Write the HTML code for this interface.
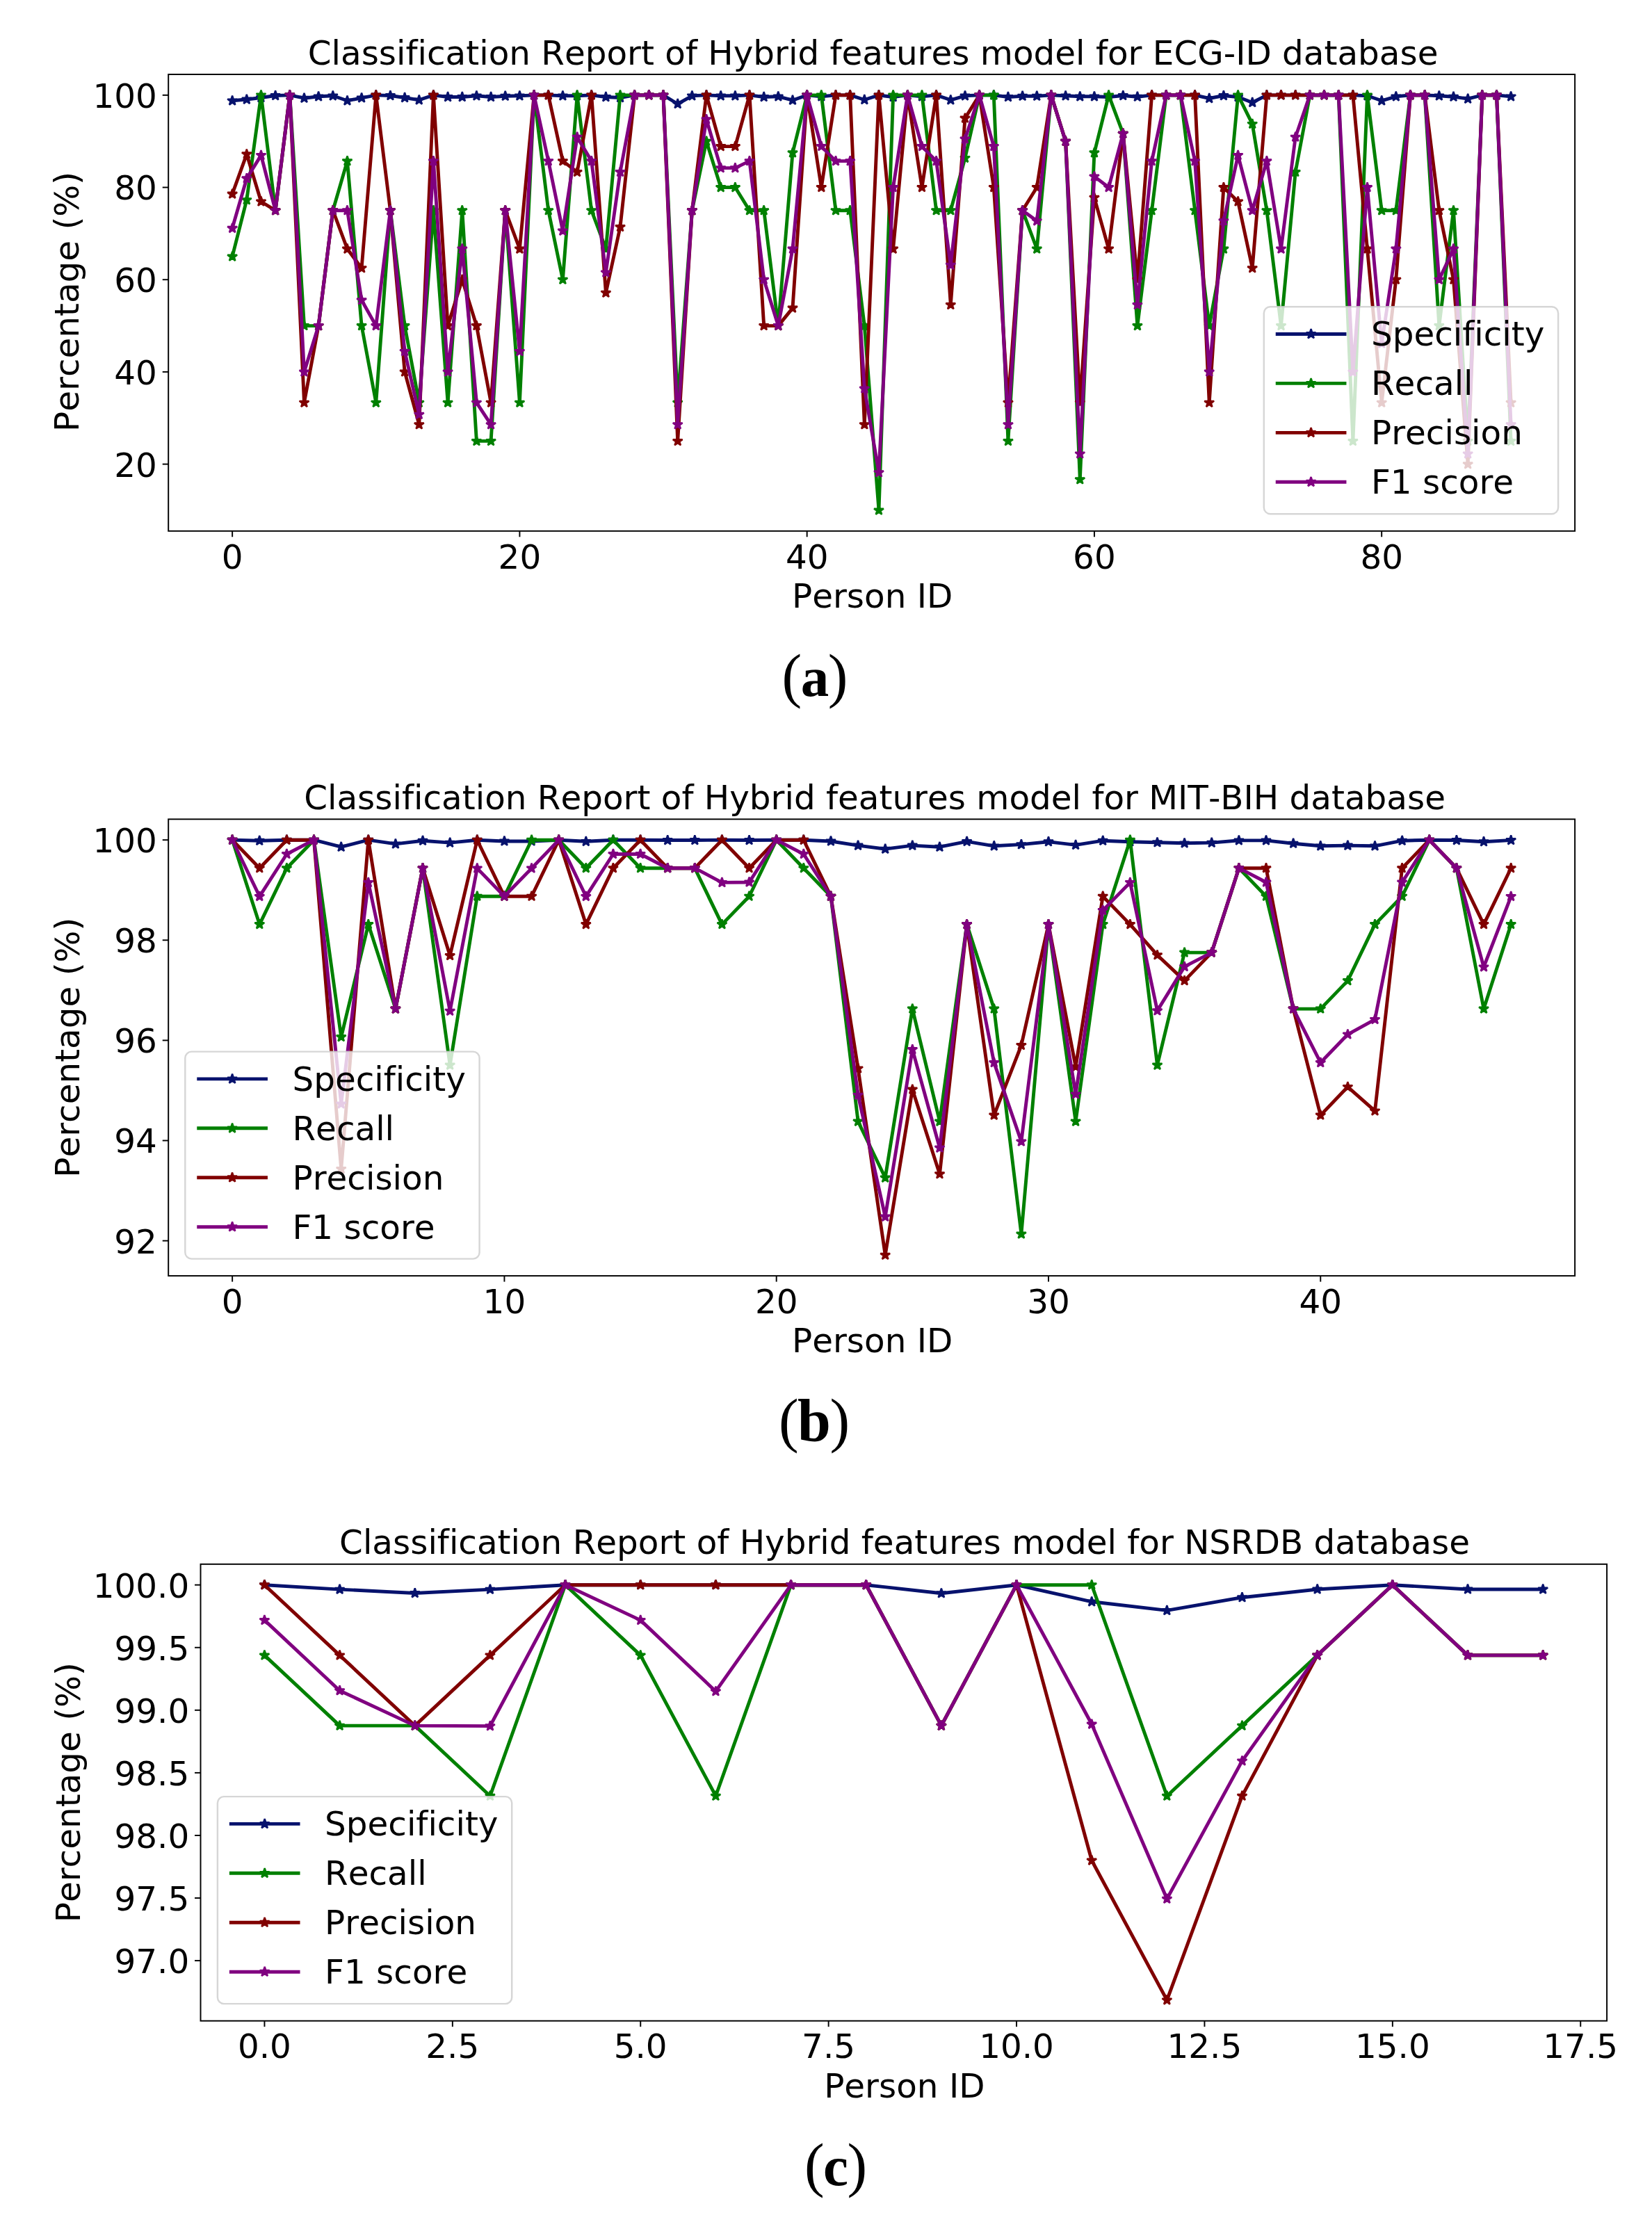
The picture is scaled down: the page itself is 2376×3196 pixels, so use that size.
<!DOCTYPE html>
<html><head><meta charset="utf-8"><title>Classification Report</title>
<style>html,body{margin:0;padding:0;background:#fff}svg{display:block}text{font-variant-ligatures:none;font-feature-settings:"liga" 0,"clig" 0;font-kerning:none}</style></head>
<body>
<svg width="2376" height="3196" viewBox="0 0 2376 3196" font-family='"DejaVu Sans","Liberation Sans",sans-serif' font-size="48.4" fill="#000">
<rect width="2376" height="3196" fill="#fff"/>
<g id="chart-a">
<polyline points="334.1,144.8 354.8,143.0 375.5,140.5 396.1,137.5 416.8,136.9 437.5,141.2 458.1,138.8 478.8,137.8 499.5,144.8 520.1,140.8 540.8,136.9 561.4,137.5 582.1,140.5 602.8,143.8 623.4,136.9 644.1,139.5 664.8,139.5 685.4,137.8 706.1,139.5 726.7,138.2 747.4,137.8 768.1,136.9 788.7,136.9 809.4,137.8 830.1,137.8 850.7,136.9 871.4,139.5 892.0,140.5 912.7,136.9 933.4,136.9 954.0,136.9 974.7,149.5 995.4,137.8 1016.0,136.9 1036.7,137.8 1057.4,137.8 1078.0,136.9 1098.7,139.5 1119.3,138.8 1140.0,144.2 1160.7,136.9 1181.3,138.8 1202.0,136.9 1222.7,136.9 1243.3,143.5 1264.0,136.9 1284.6,139.5 1305.3,136.9 1326.0,138.8 1346.6,136.9 1367.3,143.8 1388.0,137.8 1408.6,136.9 1429.3,136.9 1449.9,139.5 1470.6,138.2 1491.3,138.2 1511.9,136.9 1532.6,137.8 1553.3,138.8 1573.9,138.8 1594.6,139.5 1615.3,137.5 1635.9,139.2 1656.6,136.9 1677.2,136.9 1697.9,136.9 1718.6,136.9 1739.2,141.5 1759.9,137.5 1780.6,139.5 1801.2,147.5 1821.9,136.9 1842.5,136.9 1863.2,136.9 1883.9,136.9 1904.5,136.9 1925.2,136.9 1945.9,136.9 1966.5,137.8 1987.2,144.8 2007.8,138.8 2028.5,136.9 2049.2,136.9 2069.8,137.8 2090.5,139.2 2111.2,142.2 2131.8,136.9 2152.5,136.9 2173.1,138.8" fill="none" stroke="#07126d" stroke-width="4.90" stroke-linejoin="round" stroke-linecap="square"/>
<path d="M334.1 137.6 L332.5 142.6 L327.2 142.6 L331.5 145.7 L329.9 150.7 L334.1 147.6 L338.4 150.7 L336.8 145.7 L341.1 142.6 L335.8 142.6ZM354.8 135.8 L353.2 140.8 L347.9 140.8 L352.2 143.9 L350.5 148.9 L354.8 145.8 L359.1 148.9 L357.5 143.9 L361.7 140.8 L356.4 140.8ZM375.5 133.2 L373.8 138.3 L368.6 138.3 L372.8 141.4 L371.2 146.4 L375.5 143.3 L379.7 146.4 L378.1 141.4 L382.4 138.3 L377.1 138.3ZM396.1 130.3 L394.5 135.3 L389.2 135.3 L393.5 138.4 L391.9 143.4 L396.1 140.3 L400.4 143.4 L398.8 138.4 L403.0 135.3 L397.8 135.3ZM416.8 129.6 L415.2 134.6 L409.9 134.6 L414.2 137.7 L412.5 142.7 L416.8 139.6 L421.1 142.7 L419.4 137.7 L423.7 134.6 L418.4 134.6ZM437.5 133.9 L435.8 138.9 L430.6 138.9 L434.8 142.0 L433.2 147.0 L437.5 143.9 L441.7 147.0 L440.1 142.0 L444.4 138.9 L439.1 138.9ZM458.1 131.6 L456.5 136.6 L451.2 136.6 L455.5 139.7 L453.9 144.7 L458.1 141.6 L462.4 144.7 L460.8 139.7 L465.0 136.6 L459.8 136.6ZM478.8 130.6 L477.2 135.6 L471.9 135.6 L476.2 138.7 L474.5 143.7 L478.8 140.6 L483.1 143.7 L481.4 138.7 L485.7 135.6 L480.4 135.6ZM499.5 137.6 L497.8 142.6 L492.5 142.6 L496.8 145.7 L495.2 150.7 L499.5 147.6 L503.7 150.7 L502.1 145.7 L506.4 142.6 L501.1 142.6ZM520.1 133.6 L518.5 138.6 L513.2 138.6 L517.5 141.7 L515.8 146.7 L520.1 143.6 L524.4 146.7 L522.8 141.7 L527.0 138.6 L521.7 138.6ZM540.8 129.6 L539.1 134.6 L533.9 134.6 L538.1 137.7 L536.5 142.7 L540.8 139.6 L545.0 142.7 L543.4 137.7 L547.7 134.6 L542.4 134.6ZM561.4 130.3 L559.8 135.3 L554.5 135.3 L558.8 138.4 L557.2 143.4 L561.4 140.3 L565.7 143.4 L564.1 138.4 L568.3 135.3 L563.1 135.3ZM582.1 133.2 L580.5 138.3 L575.2 138.3 L579.5 141.4 L577.8 146.4 L582.1 143.3 L586.4 146.4 L584.7 141.4 L589.0 138.3 L583.7 138.3ZM602.8 136.6 L601.1 141.6 L595.9 141.6 L600.1 144.7 L598.5 149.7 L602.8 146.6 L607.0 149.7 L605.4 144.7 L609.7 141.6 L604.4 141.6ZM623.4 129.6 L621.8 134.6 L616.5 134.6 L620.8 137.7 L619.2 142.7 L623.4 139.6 L627.7 142.7 L626.1 137.7 L630.3 134.6 L625.1 134.6ZM644.1 132.2 L642.5 137.3 L637.2 137.3 L641.5 140.4 L639.8 145.4 L644.1 142.3 L648.4 145.4 L646.7 140.4 L651.0 137.3 L645.7 137.3ZM664.8 132.2 L663.1 137.3 L657.9 137.3 L662.1 140.4 L660.5 145.4 L664.8 142.3 L669.0 145.4 L667.4 140.4 L671.7 137.3 L666.4 137.3ZM685.4 130.6 L683.8 135.6 L678.5 135.6 L682.8 138.7 L681.2 143.7 L685.4 140.6 L689.7 143.7 L688.1 138.7 L692.3 135.6 L687.0 135.6ZM706.1 132.2 L704.5 137.3 L699.2 137.3 L703.4 140.4 L701.8 145.4 L706.1 142.3 L710.3 145.4 L708.7 140.4 L713.0 137.3 L707.7 137.3ZM726.7 130.9 L725.1 135.9 L719.8 135.9 L724.1 139.0 L722.5 144.1 L726.7 141.0 L731.0 144.1 L729.4 139.0 L733.7 135.9 L728.4 135.9ZM747.4 130.6 L745.8 135.6 L740.5 135.6 L744.8 138.7 L743.1 143.7 L747.4 140.6 L751.7 143.7 L750.0 138.7 L754.3 135.6 L749.0 135.6ZM768.1 129.6 L766.4 134.6 L761.2 134.6 L765.4 137.7 L763.8 142.7 L768.1 139.6 L772.3 142.7 L770.7 137.7 L775.0 134.6 L769.7 134.6ZM788.7 129.6 L787.1 134.6 L781.8 134.6 L786.1 137.7 L784.5 142.7 L788.7 139.6 L793.0 142.7 L791.4 137.7 L795.6 134.6 L790.4 134.6ZM809.4 130.6 L807.8 135.6 L802.5 135.6 L806.8 138.7 L805.1 143.7 L809.4 140.6 L813.7 143.7 L812.0 138.7 L816.3 135.6 L811.0 135.6ZM830.1 130.6 L828.4 135.6 L823.2 135.6 L827.4 138.7 L825.8 143.7 L830.1 140.6 L834.3 143.7 L832.7 138.7 L837.0 135.6 L831.7 135.6ZM850.7 129.6 L849.1 134.6 L843.8 134.6 L848.1 137.7 L846.5 142.7 L850.7 139.6 L855.0 142.7 L853.4 137.7 L857.6 134.6 L852.4 134.6ZM871.4 132.2 L869.8 137.3 L864.5 137.3 L868.7 140.4 L867.1 145.4 L871.4 142.3 L875.7 145.4 L874.0 140.4 L878.3 137.3 L873.0 137.3ZM892.0 133.2 L890.4 138.3 L885.1 138.3 L889.4 141.4 L887.8 146.4 L892.0 143.3 L896.3 146.4 L894.7 141.4 L899.0 138.3 L893.7 138.3ZM912.7 129.6 L911.1 134.6 L905.8 134.6 L910.1 137.7 L908.4 142.7 L912.7 139.6 L917.0 142.7 L915.3 137.7 L919.6 134.6 L914.3 134.6ZM933.4 129.6 L931.7 134.6 L926.5 134.6 L930.7 137.7 L929.1 142.7 L933.4 139.6 L937.6 142.7 L936.0 137.7 L940.3 134.6 L935.0 134.6ZM954.0 129.6 L952.4 134.6 L947.1 134.6 L951.4 137.7 L949.8 142.7 L954.0 139.6 L958.3 142.7 L956.7 137.7 L960.9 134.6 L955.7 134.6ZM974.7 142.2 L973.1 147.2 L967.8 147.2 L972.1 150.3 L970.4 155.3 L974.7 152.2 L979.0 155.3 L977.3 150.3 L981.6 147.2 L976.3 147.2ZM995.4 130.6 L993.7 135.6 L988.5 135.6 L992.7 138.7 L991.1 143.7 L995.4 140.6 L999.6 143.7 L998.0 138.7 L1002.3 135.6 L997.0 135.6ZM1016.0 129.6 L1014.4 134.6 L1009.1 134.6 L1013.4 137.7 L1011.8 142.7 L1016.0 139.6 L1020.3 142.7 L1018.7 137.7 L1022.9 134.6 L1017.7 134.6ZM1036.7 130.6 L1035.1 135.6 L1029.8 135.6 L1034.1 138.7 L1032.4 143.7 L1036.7 140.6 L1041.0 143.7 L1039.3 138.7 L1043.6 135.6 L1038.3 135.6ZM1057.4 130.6 L1055.7 135.6 L1050.4 135.6 L1054.7 138.7 L1053.1 143.7 L1057.4 140.6 L1061.6 143.7 L1060.0 138.7 L1064.3 135.6 L1059.0 135.6ZM1078.0 129.6 L1076.4 134.6 L1071.1 134.6 L1075.4 137.7 L1073.7 142.7 L1078.0 139.6 L1082.3 142.7 L1080.7 137.7 L1084.9 134.6 L1079.6 134.6ZM1098.7 132.2 L1097.0 137.3 L1091.8 137.3 L1096.0 140.4 L1094.4 145.4 L1098.7 142.3 L1102.9 145.4 L1101.3 140.4 L1105.6 137.3 L1100.3 137.3ZM1119.3 131.6 L1117.7 136.6 L1112.4 136.6 L1116.7 139.7 L1115.1 144.7 L1119.3 141.6 L1123.6 144.7 L1122.0 139.7 L1126.2 136.6 L1121.0 136.6ZM1140.0 136.9 L1138.4 141.9 L1133.1 141.9 L1137.4 145.0 L1135.7 150.0 L1140.0 146.9 L1144.3 150.0 L1142.6 145.0 L1146.9 141.9 L1141.6 141.9ZM1160.7 129.6 L1159.0 134.6 L1153.8 134.6 L1158.0 137.7 L1156.4 142.7 L1160.7 139.6 L1164.9 142.7 L1163.3 137.7 L1167.6 134.6 L1162.3 134.6ZM1181.3 131.6 L1179.7 136.6 L1174.4 136.6 L1178.7 139.7 L1177.1 144.7 L1181.3 141.6 L1185.6 144.7 L1184.0 139.7 L1188.2 136.6 L1183.0 136.6ZM1202.0 129.6 L1200.4 134.6 L1195.1 134.6 L1199.4 137.7 L1197.7 142.7 L1202.0 139.6 L1206.3 142.7 L1204.6 137.7 L1208.9 134.6 L1203.6 134.6ZM1222.7 129.6 L1221.0 134.6 L1215.8 134.6 L1220.0 137.7 L1218.4 142.7 L1222.7 139.6 L1226.9 142.7 L1225.3 137.7 L1229.6 134.6 L1224.3 134.6ZM1243.3 136.2 L1241.7 141.2 L1236.4 141.2 L1240.7 144.3 L1239.1 149.4 L1243.3 146.3 L1247.6 149.4 L1246.0 144.3 L1250.2 141.2 L1244.9 141.2ZM1264.0 129.6 L1262.4 134.6 L1257.1 134.6 L1261.3 137.7 L1259.7 142.7 L1264.0 139.6 L1268.2 142.7 L1266.6 137.7 L1270.9 134.6 L1265.6 134.6ZM1284.6 132.2 L1283.0 137.3 L1277.7 137.3 L1282.0 140.4 L1280.4 145.4 L1284.6 142.3 L1288.9 145.4 L1287.3 140.4 L1291.5 137.3 L1286.3 137.3ZM1305.3 129.6 L1303.7 134.6 L1298.4 134.6 L1302.7 137.7 L1301.0 142.7 L1305.3 139.6 L1309.6 142.7 L1307.9 137.7 L1312.2 134.6 L1306.9 134.6ZM1326.0 131.6 L1324.3 136.6 L1319.1 136.6 L1323.3 139.7 L1321.7 144.7 L1326.0 141.6 L1330.2 144.7 L1328.6 139.7 L1332.9 136.6 L1327.6 136.6ZM1346.6 129.6 L1345.0 134.6 L1339.7 134.6 L1344.0 137.7 L1342.4 142.7 L1346.6 139.6 L1350.9 142.7 L1349.3 137.7 L1353.5 134.6 L1348.3 134.6ZM1367.3 136.6 L1365.7 141.6 L1360.4 141.6 L1364.7 144.7 L1363.0 149.7 L1367.3 146.6 L1371.6 149.7 L1369.9 144.7 L1374.2 141.6 L1368.9 141.6ZM1388.0 130.6 L1386.3 135.6 L1381.1 135.6 L1385.3 138.7 L1383.7 143.7 L1388.0 140.6 L1392.2 143.7 L1390.6 138.7 L1394.9 135.6 L1389.6 135.6ZM1408.6 129.6 L1407.0 134.6 L1401.7 134.6 L1406.0 137.7 L1404.4 142.7 L1408.6 139.6 L1412.9 142.7 L1411.3 137.7 L1415.5 134.6 L1410.3 134.6ZM1429.3 129.6 L1427.7 134.6 L1422.4 134.6 L1426.6 137.7 L1425.0 142.7 L1429.3 139.6 L1433.6 142.7 L1431.9 137.7 L1436.2 134.6 L1430.9 134.6ZM1449.9 132.2 L1448.3 137.3 L1443.0 137.3 L1447.3 140.4 L1445.7 145.4 L1449.9 142.3 L1454.2 145.4 L1452.6 140.4 L1456.9 137.3 L1451.6 137.3ZM1470.6 130.9 L1469.0 135.9 L1463.7 135.9 L1468.0 139.0 L1466.3 144.1 L1470.6 141.0 L1474.9 144.1 L1473.2 139.0 L1477.5 135.9 L1472.2 135.9ZM1491.3 130.9 L1489.6 135.9 L1484.4 135.9 L1488.6 139.0 L1487.0 144.1 L1491.3 141.0 L1495.5 144.1 L1493.9 139.0 L1498.2 135.9 L1492.9 135.9ZM1511.9 129.6 L1510.3 134.6 L1505.0 134.6 L1509.3 137.7 L1507.7 142.7 L1511.9 139.6 L1516.2 142.7 L1514.6 137.7 L1518.8 134.6 L1513.6 134.6ZM1532.6 130.6 L1531.0 135.6 L1525.7 135.6 L1530.0 138.7 L1528.3 143.7 L1532.6 140.6 L1536.9 143.7 L1535.2 138.7 L1539.5 135.6 L1534.2 135.6ZM1553.3 131.6 L1551.6 136.6 L1546.4 136.6 L1550.6 139.7 L1549.0 144.7 L1553.3 141.6 L1557.5 144.7 L1555.9 139.7 L1560.2 136.6 L1554.9 136.6ZM1573.9 131.6 L1572.3 136.6 L1567.0 136.6 L1571.3 139.7 L1569.7 144.7 L1573.9 141.6 L1578.2 144.7 L1576.6 139.7 L1580.8 136.6 L1575.6 136.6ZM1594.6 132.2 L1593.0 137.3 L1587.7 137.3 L1592.0 140.4 L1590.3 145.4 L1594.6 142.3 L1598.9 145.4 L1597.2 140.4 L1601.5 137.3 L1596.2 137.3ZM1615.3 130.3 L1613.6 135.3 L1608.3 135.3 L1612.6 138.4 L1611.0 143.4 L1615.3 140.3 L1619.5 143.4 L1617.9 138.4 L1622.2 135.3 L1616.9 135.3ZM1635.9 131.9 L1634.3 136.9 L1629.0 136.9 L1633.3 140.0 L1631.6 145.1 L1635.9 141.9 L1640.2 145.1 L1638.6 140.0 L1642.8 136.9 L1637.5 136.9ZM1656.6 129.6 L1654.9 134.6 L1649.7 134.6 L1653.9 137.7 L1652.3 142.7 L1656.6 139.6 L1660.8 142.7 L1659.2 137.7 L1663.5 134.6 L1658.2 134.6ZM1677.2 129.6 L1675.6 134.6 L1670.3 134.6 L1674.6 137.7 L1673.0 142.7 L1677.2 139.6 L1681.5 142.7 L1679.9 137.7 L1684.1 134.6 L1678.9 134.6ZM1697.9 129.6 L1696.3 134.6 L1691.0 134.6 L1695.3 137.7 L1693.6 142.7 L1697.9 139.6 L1702.2 142.7 L1700.5 137.7 L1704.8 134.6 L1699.5 134.6ZM1718.6 129.6 L1716.9 134.6 L1711.7 134.6 L1715.9 137.7 L1714.3 142.7 L1718.6 139.6 L1722.8 142.7 L1721.2 137.7 L1725.5 134.6 L1720.2 134.6ZM1739.2 134.2 L1737.6 139.3 L1732.3 139.3 L1736.6 142.4 L1735.0 147.4 L1739.2 144.3 L1743.5 147.4 L1741.9 142.4 L1746.1 139.3 L1740.9 139.3ZM1759.9 130.3 L1758.3 135.3 L1753.0 135.3 L1757.3 138.4 L1755.6 143.4 L1759.9 140.3 L1764.2 143.4 L1762.5 138.4 L1766.8 135.3 L1761.5 135.3ZM1780.6 132.2 L1778.9 137.3 L1773.6 137.3 L1777.9 140.4 L1776.3 145.4 L1780.6 142.3 L1784.8 145.4 L1783.2 140.4 L1787.5 137.3 L1782.2 137.3ZM1801.2 140.2 L1799.6 145.2 L1794.3 145.2 L1798.6 148.3 L1797.0 153.3 L1801.2 150.2 L1805.5 153.3 L1803.9 148.3 L1808.1 145.2 L1802.8 145.2ZM1821.9 129.6 L1820.3 134.6 L1815.0 134.6 L1819.2 137.7 L1817.6 142.7 L1821.9 139.6 L1826.1 142.7 L1824.5 137.7 L1828.8 134.6 L1823.5 134.6ZM1842.5 129.6 L1840.9 134.6 L1835.6 134.6 L1839.9 137.7 L1838.3 142.7 L1842.5 139.6 L1846.8 142.7 L1845.2 137.7 L1849.4 134.6 L1844.2 134.6ZM1863.2 129.6 L1861.6 134.6 L1856.3 134.6 L1860.6 137.7 L1858.9 142.7 L1863.2 139.6 L1867.5 142.7 L1865.8 137.7 L1870.1 134.6 L1864.8 134.6ZM1883.9 129.6 L1882.2 134.6 L1877.0 134.6 L1881.2 137.7 L1879.6 142.7 L1883.9 139.6 L1888.1 142.7 L1886.5 137.7 L1890.8 134.6 L1885.5 134.6ZM1904.5 129.6 L1902.9 134.6 L1897.6 134.6 L1901.9 137.7 L1900.3 142.7 L1904.5 139.6 L1908.8 142.7 L1907.2 137.7 L1911.4 134.6 L1906.2 134.6ZM1925.2 129.6 L1923.6 134.6 L1918.3 134.6 L1922.6 137.7 L1920.9 142.7 L1925.2 139.6 L1929.5 142.7 L1927.8 137.7 L1932.1 134.6 L1926.8 134.6ZM1945.9 129.6 L1944.2 134.6 L1939.0 134.6 L1943.2 137.7 L1941.6 142.7 L1945.9 139.6 L1950.1 142.7 L1948.5 137.7 L1952.8 134.6 L1947.5 134.6ZM1966.5 130.6 L1964.9 135.6 L1959.6 135.6 L1963.9 138.7 L1962.3 143.7 L1966.5 140.6 L1970.8 143.7 L1969.2 138.7 L1973.4 135.6 L1968.2 135.6ZM1987.2 137.6 L1985.6 142.6 L1980.3 142.6 L1984.5 145.7 L1982.9 150.7 L1987.2 147.6 L1991.5 150.7 L1989.8 145.7 L1994.1 142.6 L1988.8 142.6ZM2007.8 131.6 L2006.2 136.6 L2000.9 136.6 L2005.2 139.7 L2003.6 144.7 L2007.8 141.6 L2012.1 144.7 L2010.5 139.7 L2014.8 136.6 L2009.5 136.6ZM2028.5 129.6 L2026.9 134.6 L2021.6 134.6 L2025.9 137.7 L2024.2 142.7 L2028.5 139.6 L2032.8 142.7 L2031.1 137.7 L2035.4 134.6 L2030.1 134.6ZM2049.2 129.6 L2047.5 134.6 L2042.3 134.6 L2046.5 137.7 L2044.9 142.7 L2049.2 139.6 L2053.4 142.7 L2051.8 137.7 L2056.1 134.6 L2050.8 134.6ZM2069.8 130.6 L2068.2 135.6 L2062.9 135.6 L2067.2 138.7 L2065.6 143.7 L2069.8 140.6 L2074.1 143.7 L2072.5 138.7 L2076.7 135.6 L2071.5 135.6ZM2090.5 131.9 L2088.9 136.9 L2083.6 136.9 L2087.9 140.0 L2086.2 145.1 L2090.5 141.9 L2094.8 145.1 L2093.1 140.0 L2097.4 136.9 L2092.1 136.9ZM2111.2 134.9 L2109.5 139.9 L2104.3 139.9 L2108.5 143.0 L2106.9 148.0 L2111.2 144.9 L2115.4 148.0 L2113.8 143.0 L2118.1 139.9 L2112.8 139.9ZM2131.8 129.6 L2130.2 134.6 L2124.9 134.6 L2129.2 137.7 L2127.6 142.7 L2131.8 139.6 L2136.1 142.7 L2134.5 137.7 L2138.7 134.6 L2133.5 134.6ZM2152.5 129.6 L2150.9 134.6 L2145.6 134.6 L2149.8 137.7 L2148.2 142.7 L2152.5 139.6 L2156.8 142.7 L2155.1 137.7 L2159.4 134.6 L2154.1 134.6ZM2173.1 131.6 L2171.5 136.6 L2166.2 136.6 L2170.5 139.7 L2168.9 144.7 L2173.1 141.6 L2177.4 144.7 L2175.8 139.7 L2180.1 136.6 L2174.8 136.6Z" fill="#07126d" stroke="#07126d" stroke-width="2.42" stroke-linejoin="bevel"/>
<polyline points="334.1,369.1 354.8,287.6 375.5,136.9 396.1,302.7 416.8,136.9 437.5,468.6 458.1,468.6 478.8,302.7 499.5,231.6 520.1,468.6 540.8,579.1 561.4,302.7 582.1,468.6 602.8,579.1 623.4,302.7 644.1,579.1 664.8,302.7 685.4,634.4 706.1,634.4 726.7,302.7 747.4,579.1 768.1,136.9 788.7,302.7 809.4,402.2 830.1,136.9 850.7,302.7 871.4,358.0 892.0,136.9 912.7,136.9 933.4,136.9 954.0,136.9 974.7,579.1 995.4,302.7 1016.0,203.2 1036.7,269.5 1057.4,269.5 1078.0,302.7 1098.7,302.7 1119.3,468.6 1140.0,219.8 1160.7,136.9 1181.3,136.9 1202.0,302.7 1222.7,302.7 1243.3,468.6 1264.0,733.9 1284.6,136.9 1305.3,136.9 1326.0,136.9 1346.6,302.7 1367.3,302.7 1388.0,227.3 1408.6,136.9 1429.3,136.9 1449.9,634.4 1470.6,302.7 1491.3,358.0 1511.9,136.9 1532.6,203.2 1553.3,689.7 1573.9,219.8 1594.6,136.9 1615.3,192.1 1635.9,468.6 1656.6,302.7 1677.2,136.9 1697.9,136.9 1718.6,302.7 1739.2,468.6 1759.9,358.0 1780.6,136.9 1801.2,178.3 1821.9,302.7 1842.5,468.6 1863.2,247.4 1883.9,136.9 1904.5,136.9 1925.2,136.9 1945.9,634.4 1966.5,136.9 1987.2,302.7 2007.8,302.7 2028.5,136.9 2049.2,136.9 2069.8,468.6 2090.5,302.7 2111.2,634.4 2131.8,136.9 2152.5,136.9 2173.1,634.4" fill="none" stroke="#008000" stroke-width="4.90" stroke-linejoin="round" stroke-linecap="square"/>
<path d="M334.1 361.8 L332.5 366.8 L327.2 366.8 L331.5 369.9 L329.9 374.9 L334.1 371.8 L338.4 374.9 L336.8 369.9 L341.1 366.8 L335.8 366.8ZM354.8 280.4 L353.2 285.4 L347.9 285.4 L352.2 288.5 L350.5 293.5 L354.8 290.4 L359.1 293.5 L357.5 288.5 L361.7 285.4 L356.4 285.4ZM375.5 129.6 L373.8 134.6 L368.6 134.6 L372.8 137.7 L371.2 142.7 L375.5 139.6 L379.7 142.7 L378.1 137.7 L382.4 134.6 L377.1 134.6ZM396.1 295.5 L394.5 300.5 L389.2 300.5 L393.5 303.6 L391.9 308.6 L396.1 305.5 L400.4 308.6 L398.8 303.6 L403.0 300.5 L397.8 300.5ZM416.8 129.6 L415.2 134.6 L409.9 134.6 L414.2 137.7 L412.5 142.7 L416.8 139.6 L421.1 142.7 L419.4 137.7 L423.7 134.6 L418.4 134.6ZM437.5 461.3 L435.8 466.3 L430.6 466.3 L434.8 469.4 L433.2 474.4 L437.5 471.3 L441.7 474.4 L440.1 469.4 L444.4 466.3 L439.1 466.3ZM458.1 461.3 L456.5 466.3 L451.2 466.3 L455.5 469.4 L453.9 474.4 L458.1 471.3 L462.4 474.4 L460.8 469.4 L465.0 466.3 L459.8 466.3ZM478.8 295.5 L477.2 300.5 L471.9 300.5 L476.2 303.6 L474.5 308.6 L478.8 305.5 L483.1 308.6 L481.4 303.6 L485.7 300.5 L480.4 300.5ZM499.5 224.4 L497.8 229.4 L492.5 229.4 L496.8 232.5 L495.2 237.5 L499.5 234.4 L503.7 237.5 L502.1 232.5 L506.4 229.4 L501.1 229.4ZM520.1 461.3 L518.5 466.3 L513.2 466.3 L517.5 469.4 L515.8 474.4 L520.1 471.3 L524.4 474.4 L522.8 469.4 L527.0 466.3 L521.7 466.3ZM540.8 571.9 L539.1 576.9 L533.9 576.9 L538.1 580.0 L536.5 585.0 L540.8 581.9 L545.0 585.0 L543.4 580.0 L547.7 576.9 L542.4 576.9ZM561.4 295.5 L559.8 300.5 L554.5 300.5 L558.8 303.6 L557.2 308.6 L561.4 305.5 L565.7 308.6 L564.1 303.6 L568.3 300.5 L563.1 300.5ZM582.1 461.3 L580.5 466.3 L575.2 466.3 L579.5 469.4 L577.8 474.4 L582.1 471.3 L586.4 474.4 L584.7 469.4 L589.0 466.3 L583.7 466.3ZM602.8 571.9 L601.1 576.9 L595.9 576.9 L600.1 580.0 L598.5 585.0 L602.8 581.9 L607.0 585.0 L605.4 580.0 L609.7 576.9 L604.4 576.9ZM623.4 295.5 L621.8 300.5 L616.5 300.5 L620.8 303.6 L619.2 308.6 L623.4 305.5 L627.7 308.6 L626.1 303.6 L630.3 300.5 L625.1 300.5ZM644.1 571.9 L642.5 576.9 L637.2 576.9 L641.5 580.0 L639.8 585.0 L644.1 581.9 L648.4 585.0 L646.7 580.0 L651.0 576.9 L645.7 576.9ZM664.8 295.5 L663.1 300.5 L657.9 300.5 L662.1 303.6 L660.5 308.6 L664.8 305.5 L669.0 308.6 L667.4 303.6 L671.7 300.5 L666.4 300.5ZM685.4 627.2 L683.8 632.2 L678.5 632.2 L682.8 635.3 L681.2 640.3 L685.4 637.2 L689.7 640.3 L688.1 635.3 L692.3 632.2 L687.0 632.2ZM706.1 627.2 L704.5 632.2 L699.2 632.2 L703.4 635.3 L701.8 640.3 L706.1 637.2 L710.3 640.3 L708.7 635.3 L713.0 632.2 L707.7 632.2ZM726.7 295.5 L725.1 300.5 L719.8 300.5 L724.1 303.6 L722.5 308.6 L726.7 305.5 L731.0 308.6 L729.4 303.6 L733.7 300.5 L728.4 300.5ZM747.4 571.9 L745.8 576.9 L740.5 576.9 L744.8 580.0 L743.1 585.0 L747.4 581.9 L751.7 585.0 L750.0 580.0 L754.3 576.9 L749.0 576.9ZM768.1 129.6 L766.4 134.6 L761.2 134.6 L765.4 137.7 L763.8 142.7 L768.1 139.6 L772.3 142.7 L770.7 137.7 L775.0 134.6 L769.7 134.6ZM788.7 295.5 L787.1 300.5 L781.8 300.5 L786.1 303.6 L784.5 308.6 L788.7 305.5 L793.0 308.6 L791.4 303.6 L795.6 300.5 L790.4 300.5ZM809.4 395.0 L807.8 400.0 L802.5 400.0 L806.8 403.1 L805.1 408.1 L809.4 405.0 L813.7 408.1 L812.0 403.1 L816.3 400.0 L811.0 400.0ZM830.1 129.6 L828.4 134.6 L823.2 134.6 L827.4 137.7 L825.8 142.7 L830.1 139.6 L834.3 142.7 L832.7 137.7 L837.0 134.6 L831.7 134.6ZM850.7 295.5 L849.1 300.5 L843.8 300.5 L848.1 303.6 L846.5 308.6 L850.7 305.5 L855.0 308.6 L853.4 303.6 L857.6 300.5 L852.4 300.5ZM871.4 350.7 L869.8 355.8 L864.5 355.8 L868.7 358.9 L867.1 363.9 L871.4 360.8 L875.7 363.9 L874.0 358.9 L878.3 355.8 L873.0 355.8ZM892.0 129.6 L890.4 134.6 L885.1 134.6 L889.4 137.7 L887.8 142.7 L892.0 139.6 L896.3 142.7 L894.7 137.7 L899.0 134.6 L893.7 134.6ZM912.7 129.6 L911.1 134.6 L905.8 134.6 L910.1 137.7 L908.4 142.7 L912.7 139.6 L917.0 142.7 L915.3 137.7 L919.6 134.6 L914.3 134.6ZM933.4 129.6 L931.7 134.6 L926.5 134.6 L930.7 137.7 L929.1 142.7 L933.4 139.6 L937.6 142.7 L936.0 137.7 L940.3 134.6 L935.0 134.6ZM954.0 129.6 L952.4 134.6 L947.1 134.6 L951.4 137.7 L949.8 142.7 L954.0 139.6 L958.3 142.7 L956.7 137.7 L960.9 134.6 L955.7 134.6ZM974.7 571.9 L973.1 576.9 L967.8 576.9 L972.1 580.0 L970.4 585.0 L974.7 581.9 L979.0 585.0 L977.3 580.0 L981.6 576.9 L976.3 576.9ZM995.4 295.5 L993.7 300.5 L988.5 300.5 L992.7 303.6 L991.1 308.6 L995.4 305.5 L999.6 308.6 L998.0 303.6 L1002.3 300.5 L997.0 300.5ZM1016.0 195.9 L1014.4 201.0 L1009.1 201.0 L1013.4 204.1 L1011.8 209.1 L1016.0 206.0 L1020.3 209.1 L1018.7 204.1 L1022.9 201.0 L1017.7 201.0ZM1036.7 262.3 L1035.1 267.3 L1029.8 267.3 L1034.1 270.4 L1032.4 275.4 L1036.7 272.3 L1041.0 275.4 L1039.3 270.4 L1043.6 267.3 L1038.3 267.3ZM1057.4 262.3 L1055.7 267.3 L1050.4 267.3 L1054.7 270.4 L1053.1 275.4 L1057.4 272.3 L1061.6 275.4 L1060.0 270.4 L1064.3 267.3 L1059.0 267.3ZM1078.0 295.5 L1076.4 300.5 L1071.1 300.5 L1075.4 303.6 L1073.7 308.6 L1078.0 305.5 L1082.3 308.6 L1080.7 303.6 L1084.9 300.5 L1079.6 300.5ZM1098.7 295.5 L1097.0 300.5 L1091.8 300.5 L1096.0 303.6 L1094.4 308.6 L1098.7 305.5 L1102.9 308.6 L1101.3 303.6 L1105.6 300.5 L1100.3 300.5ZM1119.3 461.3 L1117.7 466.3 L1112.4 466.3 L1116.7 469.4 L1115.1 474.4 L1119.3 471.3 L1123.6 474.4 L1122.0 469.4 L1126.2 466.3 L1121.0 466.3ZM1140.0 212.5 L1138.4 217.5 L1133.1 217.5 L1137.4 220.6 L1135.7 225.7 L1140.0 222.6 L1144.3 225.7 L1142.6 220.6 L1146.9 217.5 L1141.6 217.5ZM1160.7 129.6 L1159.0 134.6 L1153.8 134.6 L1158.0 137.7 L1156.4 142.7 L1160.7 139.6 L1164.9 142.7 L1163.3 137.7 L1167.6 134.6 L1162.3 134.6ZM1181.3 129.6 L1179.7 134.6 L1174.4 134.6 L1178.7 137.7 L1177.1 142.7 L1181.3 139.6 L1185.6 142.7 L1184.0 137.7 L1188.2 134.6 L1183.0 134.6ZM1202.0 295.5 L1200.4 300.5 L1195.1 300.5 L1199.4 303.6 L1197.7 308.6 L1202.0 305.5 L1206.3 308.6 L1204.6 303.6 L1208.9 300.5 L1203.6 300.5ZM1222.7 295.5 L1221.0 300.5 L1215.8 300.5 L1220.0 303.6 L1218.4 308.6 L1222.7 305.5 L1226.9 308.6 L1225.3 303.6 L1229.6 300.5 L1224.3 300.5ZM1243.3 461.3 L1241.7 466.3 L1236.4 466.3 L1240.7 469.4 L1239.1 474.4 L1243.3 471.3 L1247.6 474.4 L1246.0 469.4 L1250.2 466.3 L1244.9 466.3ZM1264.0 726.7 L1262.4 731.7 L1257.1 731.7 L1261.3 734.8 L1259.7 739.8 L1264.0 736.7 L1268.2 739.8 L1266.6 734.8 L1270.9 731.7 L1265.6 731.7ZM1284.6 129.6 L1283.0 134.6 L1277.7 134.6 L1282.0 137.7 L1280.4 142.7 L1284.6 139.6 L1288.9 142.7 L1287.3 137.7 L1291.5 134.6 L1286.3 134.6ZM1305.3 129.6 L1303.7 134.6 L1298.4 134.6 L1302.7 137.7 L1301.0 142.7 L1305.3 139.6 L1309.6 142.7 L1307.9 137.7 L1312.2 134.6 L1306.9 134.6ZM1326.0 129.6 L1324.3 134.6 L1319.1 134.6 L1323.3 137.7 L1321.7 142.7 L1326.0 139.6 L1330.2 142.7 L1328.6 137.7 L1332.9 134.6 L1327.6 134.6ZM1346.6 295.5 L1345.0 300.5 L1339.7 300.5 L1344.0 303.6 L1342.4 308.6 L1346.6 305.5 L1350.9 308.6 L1349.3 303.6 L1353.5 300.5 L1348.3 300.5ZM1367.3 295.5 L1365.7 300.5 L1360.4 300.5 L1364.7 303.6 L1363.0 308.6 L1367.3 305.5 L1371.6 308.6 L1369.9 303.6 L1374.2 300.5 L1368.9 300.5ZM1388.0 220.1 L1386.3 225.1 L1381.1 225.1 L1385.3 228.2 L1383.7 233.2 L1388.0 230.1 L1392.2 233.2 L1390.6 228.2 L1394.9 225.1 L1389.6 225.1ZM1408.6 129.6 L1407.0 134.6 L1401.7 134.6 L1406.0 137.7 L1404.4 142.7 L1408.6 139.6 L1412.9 142.7 L1411.3 137.7 L1415.5 134.6 L1410.3 134.6ZM1429.3 129.6 L1427.7 134.6 L1422.4 134.6 L1426.6 137.7 L1425.0 142.7 L1429.3 139.6 L1433.6 142.7 L1431.9 137.7 L1436.2 134.6 L1430.9 134.6ZM1449.9 627.2 L1448.3 632.2 L1443.0 632.2 L1447.3 635.3 L1445.7 640.3 L1449.9 637.2 L1454.2 640.3 L1452.6 635.3 L1456.9 632.2 L1451.6 632.2ZM1470.6 295.5 L1469.0 300.5 L1463.7 300.5 L1468.0 303.6 L1466.3 308.6 L1470.6 305.5 L1474.9 308.6 L1473.2 303.6 L1477.5 300.5 L1472.2 300.5ZM1491.3 350.7 L1489.6 355.8 L1484.4 355.8 L1488.6 358.9 L1487.0 363.9 L1491.3 360.8 L1495.5 363.9 L1493.9 358.9 L1498.2 355.8 L1492.9 355.8ZM1511.9 129.6 L1510.3 134.6 L1505.0 134.6 L1509.3 137.7 L1507.7 142.7 L1511.9 139.6 L1516.2 142.7 L1514.6 137.7 L1518.8 134.6 L1513.6 134.6ZM1532.6 195.9 L1531.0 201.0 L1525.7 201.0 L1530.0 204.1 L1528.3 209.1 L1532.6 206.0 L1536.9 209.1 L1535.2 204.1 L1539.5 201.0 L1534.2 201.0ZM1553.3 682.5 L1551.6 687.5 L1546.4 687.5 L1550.6 690.6 L1549.0 695.6 L1553.3 692.5 L1557.5 695.6 L1555.9 690.6 L1560.2 687.5 L1554.9 687.5ZM1573.9 212.5 L1572.3 217.5 L1567.0 217.5 L1571.3 220.6 L1569.7 225.7 L1573.9 222.6 L1578.2 225.7 L1576.6 220.6 L1580.8 217.5 L1575.6 217.5ZM1594.6 129.6 L1593.0 134.6 L1587.7 134.6 L1592.0 137.7 L1590.3 142.7 L1594.6 139.6 L1598.9 142.7 L1597.2 137.7 L1601.5 134.6 L1596.2 134.6ZM1615.3 184.9 L1613.6 189.9 L1608.3 189.9 L1612.6 193.0 L1611.0 198.0 L1615.3 194.9 L1619.5 198.0 L1617.9 193.0 L1622.2 189.9 L1616.9 189.9ZM1635.9 461.3 L1634.3 466.3 L1629.0 466.3 L1633.3 469.4 L1631.6 474.4 L1635.9 471.3 L1640.2 474.4 L1638.6 469.4 L1642.8 466.3 L1637.5 466.3ZM1656.6 295.5 L1654.9 300.5 L1649.7 300.5 L1653.9 303.6 L1652.3 308.6 L1656.6 305.5 L1660.8 308.6 L1659.2 303.6 L1663.5 300.5 L1658.2 300.5ZM1677.2 129.6 L1675.6 134.6 L1670.3 134.6 L1674.6 137.7 L1673.0 142.7 L1677.2 139.6 L1681.5 142.7 L1679.9 137.7 L1684.1 134.6 L1678.9 134.6ZM1697.9 129.6 L1696.3 134.6 L1691.0 134.6 L1695.3 137.7 L1693.6 142.7 L1697.9 139.6 L1702.2 142.7 L1700.5 137.7 L1704.8 134.6 L1699.5 134.6ZM1718.6 295.5 L1716.9 300.5 L1711.7 300.5 L1715.9 303.6 L1714.3 308.6 L1718.6 305.5 L1722.8 308.6 L1721.2 303.6 L1725.5 300.5 L1720.2 300.5ZM1739.2 461.3 L1737.6 466.3 L1732.3 466.3 L1736.6 469.4 L1735.0 474.4 L1739.2 471.3 L1743.5 474.4 L1741.9 469.4 L1746.1 466.3 L1740.9 466.3ZM1759.9 350.7 L1758.3 355.8 L1753.0 355.8 L1757.3 358.9 L1755.6 363.9 L1759.9 360.8 L1764.2 363.9 L1762.5 358.9 L1766.8 355.8 L1761.5 355.8ZM1780.6 129.6 L1778.9 134.6 L1773.6 134.6 L1777.9 137.7 L1776.3 142.7 L1780.6 139.6 L1784.8 142.7 L1783.2 137.7 L1787.5 134.6 L1782.2 134.6ZM1801.2 171.1 L1799.6 176.1 L1794.3 176.1 L1798.6 179.2 L1797.0 184.2 L1801.2 181.1 L1805.5 184.2 L1803.9 179.2 L1808.1 176.1 L1802.8 176.1ZM1821.9 295.5 L1820.3 300.5 L1815.0 300.5 L1819.2 303.6 L1817.6 308.6 L1821.9 305.5 L1826.1 308.6 L1824.5 303.6 L1828.8 300.5 L1823.5 300.5ZM1842.5 461.3 L1840.9 466.3 L1835.6 466.3 L1839.9 469.4 L1838.3 474.4 L1842.5 471.3 L1846.8 474.4 L1845.2 469.4 L1849.4 466.3 L1844.2 466.3ZM1863.2 240.2 L1861.6 245.2 L1856.3 245.2 L1860.6 248.3 L1858.9 253.3 L1863.2 250.2 L1867.5 253.3 L1865.8 248.3 L1870.1 245.2 L1864.8 245.2ZM1883.9 129.6 L1882.2 134.6 L1877.0 134.6 L1881.2 137.7 L1879.6 142.7 L1883.9 139.6 L1888.1 142.7 L1886.5 137.7 L1890.8 134.6 L1885.5 134.6ZM1904.5 129.6 L1902.9 134.6 L1897.6 134.6 L1901.9 137.7 L1900.3 142.7 L1904.5 139.6 L1908.8 142.7 L1907.2 137.7 L1911.4 134.6 L1906.2 134.6ZM1925.2 129.6 L1923.6 134.6 L1918.3 134.6 L1922.6 137.7 L1920.9 142.7 L1925.2 139.6 L1929.5 142.7 L1927.8 137.7 L1932.1 134.6 L1926.8 134.6ZM1945.9 627.2 L1944.2 632.2 L1939.0 632.2 L1943.2 635.3 L1941.6 640.3 L1945.9 637.2 L1950.1 640.3 L1948.5 635.3 L1952.8 632.2 L1947.5 632.2ZM1966.5 129.6 L1964.9 134.6 L1959.6 134.6 L1963.9 137.7 L1962.3 142.7 L1966.5 139.6 L1970.8 142.7 L1969.2 137.7 L1973.4 134.6 L1968.2 134.6ZM1987.2 295.5 L1985.6 300.5 L1980.3 300.5 L1984.5 303.6 L1982.9 308.6 L1987.2 305.5 L1991.5 308.6 L1989.8 303.6 L1994.1 300.5 L1988.8 300.5ZM2007.8 295.5 L2006.2 300.5 L2000.9 300.5 L2005.2 303.6 L2003.6 308.6 L2007.8 305.5 L2012.1 308.6 L2010.5 303.6 L2014.8 300.5 L2009.5 300.5ZM2028.5 129.6 L2026.9 134.6 L2021.6 134.6 L2025.9 137.7 L2024.2 142.7 L2028.5 139.6 L2032.8 142.7 L2031.1 137.7 L2035.4 134.6 L2030.1 134.6ZM2049.2 129.6 L2047.5 134.6 L2042.3 134.6 L2046.5 137.7 L2044.9 142.7 L2049.2 139.6 L2053.4 142.7 L2051.8 137.7 L2056.1 134.6 L2050.8 134.6ZM2069.8 461.3 L2068.2 466.3 L2062.9 466.3 L2067.2 469.4 L2065.6 474.4 L2069.8 471.3 L2074.1 474.4 L2072.5 469.4 L2076.7 466.3 L2071.5 466.3ZM2090.5 295.5 L2088.9 300.5 L2083.6 300.5 L2087.9 303.6 L2086.2 308.6 L2090.5 305.5 L2094.8 308.6 L2093.1 303.6 L2097.4 300.5 L2092.1 300.5ZM2111.2 627.2 L2109.5 632.2 L2104.3 632.2 L2108.5 635.3 L2106.9 640.3 L2111.2 637.2 L2115.4 640.3 L2113.8 635.3 L2118.1 632.2 L2112.8 632.2ZM2131.8 129.6 L2130.2 134.6 L2124.9 134.6 L2129.2 137.7 L2127.6 142.7 L2131.8 139.6 L2136.1 142.7 L2134.5 137.7 L2138.7 134.6 L2133.5 134.6ZM2152.5 129.6 L2150.9 134.6 L2145.6 134.6 L2149.8 137.7 L2148.2 142.7 L2152.5 139.6 L2156.8 142.7 L2155.1 137.7 L2159.4 134.6 L2154.1 134.6ZM2173.1 627.2 L2171.5 632.2 L2166.2 632.2 L2170.5 635.3 L2168.9 640.3 L2173.1 637.2 L2177.4 640.3 L2175.8 635.3 L2180.1 632.2 L2174.8 632.2Z" fill="#008000" stroke="#008000" stroke-width="2.42" stroke-linejoin="bevel"/>
<polyline points="334.1,279.0 354.8,221.8 375.5,290.0 396.1,302.7 416.8,136.9 437.5,579.1 458.1,468.6 478.8,302.7 499.5,358.0 520.1,385.6 540.8,136.9 561.4,302.7 582.1,534.9 602.8,610.7 623.4,136.9 644.1,468.6 664.8,402.2 685.4,468.6 706.1,579.1 726.7,302.7 747.4,358.0 768.1,136.9 788.7,136.9 809.4,231.6 830.1,247.4 850.7,136.9 871.4,421.2 892.0,326.4 912.7,136.9 933.4,136.9 954.0,136.9 974.7,634.4 995.4,302.7 1016.0,136.9 1036.7,210.6 1057.4,210.6 1078.0,136.9 1098.7,468.6 1119.3,468.6 1140.0,443.1 1160.7,136.9 1181.3,269.5 1202.0,136.9 1222.7,136.9 1243.3,610.7 1264.0,136.9 1284.6,358.0 1305.3,136.9 1326.0,269.5 1346.6,136.9 1367.3,438.4 1388.0,170.0 1408.6,136.9 1429.3,269.5 1449.9,579.1 1470.6,302.7 1491.3,269.5 1511.9,136.9 1532.6,203.2 1553.3,579.1 1573.9,284.3 1594.6,358.0 1615.3,192.1 1635.9,402.2 1656.6,136.9 1677.2,136.9 1697.9,136.9 1718.6,136.9 1739.2,579.1 1759.9,269.5 1780.6,290.0 1801.2,385.6 1821.9,136.9 1842.5,136.9 1863.2,136.9 1883.9,136.9 1904.5,136.9 1925.2,136.9 1945.9,136.9 1966.5,358.0 1987.2,579.1 2007.8,402.2 2028.5,136.9 2049.2,136.9 2069.8,302.7 2090.5,402.2 2111.2,667.6 2131.8,136.9 2152.5,136.9 2173.1,579.1" fill="none" stroke="#800000" stroke-width="4.90" stroke-linejoin="round" stroke-linecap="square"/>
<path d="M334.1 271.8 L332.5 276.8 L327.2 276.8 L331.5 279.9 L329.9 284.9 L334.1 281.8 L338.4 284.9 L336.8 279.9 L341.1 276.8 L335.8 276.8ZM354.8 214.5 L353.2 219.5 L347.9 219.5 L352.2 222.6 L350.5 227.6 L354.8 224.5 L359.1 227.6 L357.5 222.6 L361.7 219.5 L356.4 219.5ZM375.5 282.7 L373.8 287.7 L368.6 287.7 L372.8 290.8 L371.2 295.8 L375.5 292.7 L379.7 295.8 L378.1 290.8 L382.4 287.7 L377.1 287.7ZM396.1 295.5 L394.5 300.5 L389.2 300.5 L393.5 303.6 L391.9 308.6 L396.1 305.5 L400.4 308.6 L398.8 303.6 L403.0 300.5 L397.8 300.5ZM416.8 129.6 L415.2 134.6 L409.9 134.6 L414.2 137.7 L412.5 142.7 L416.8 139.6 L421.1 142.7 L419.4 137.7 L423.7 134.6 L418.4 134.6ZM437.5 571.9 L435.8 576.9 L430.6 576.9 L434.8 580.0 L433.2 585.0 L437.5 581.9 L441.7 585.0 L440.1 580.0 L444.4 576.9 L439.1 576.9ZM458.1 461.3 L456.5 466.3 L451.2 466.3 L455.5 469.4 L453.9 474.4 L458.1 471.3 L462.4 474.4 L460.8 469.4 L465.0 466.3 L459.8 466.3ZM478.8 295.5 L477.2 300.5 L471.9 300.5 L476.2 303.6 L474.5 308.6 L478.8 305.5 L483.1 308.6 L481.4 303.6 L485.7 300.5 L480.4 300.5ZM499.5 350.7 L497.8 355.8 L492.5 355.8 L496.8 358.9 L495.2 363.9 L499.5 360.8 L503.7 363.9 L502.1 358.9 L506.4 355.8 L501.1 355.8ZM520.1 378.4 L518.5 383.4 L513.2 383.4 L517.5 386.5 L515.8 391.5 L520.1 388.4 L524.4 391.5 L522.8 386.5 L527.0 383.4 L521.7 383.4ZM540.8 129.6 L539.1 134.6 L533.9 134.6 L538.1 137.7 L536.5 142.7 L540.8 139.6 L545.0 142.7 L543.4 137.7 L547.7 134.6 L542.4 134.6ZM561.4 295.5 L559.8 300.5 L554.5 300.5 L558.8 303.6 L557.2 308.6 L561.4 305.5 L565.7 308.6 L564.1 303.6 L568.3 300.5 L563.1 300.5ZM582.1 527.7 L580.5 532.7 L575.2 532.7 L579.5 535.8 L577.8 540.8 L582.1 537.7 L586.4 540.8 L584.7 535.8 L589.0 532.7 L583.7 532.7ZM602.8 603.5 L601.1 608.5 L595.9 608.5 L600.1 611.6 L598.5 616.6 L602.8 613.5 L607.0 616.6 L605.4 611.6 L609.7 608.5 L604.4 608.5ZM623.4 129.6 L621.8 134.6 L616.5 134.6 L620.8 137.7 L619.2 142.7 L623.4 139.6 L627.7 142.7 L626.1 137.7 L630.3 134.6 L625.1 134.6ZM644.1 461.3 L642.5 466.3 L637.2 466.3 L641.5 469.4 L639.8 474.4 L644.1 471.3 L648.4 474.4 L646.7 469.4 L651.0 466.3 L645.7 466.3ZM664.8 395.0 L663.1 400.0 L657.9 400.0 L662.1 403.1 L660.5 408.1 L664.8 405.0 L669.0 408.1 L667.4 403.1 L671.7 400.0 L666.4 400.0ZM685.4 461.3 L683.8 466.3 L678.5 466.3 L682.8 469.4 L681.2 474.4 L685.4 471.3 L689.7 474.4 L688.1 469.4 L692.3 466.3 L687.0 466.3ZM706.1 571.9 L704.5 576.9 L699.2 576.9 L703.4 580.0 L701.8 585.0 L706.1 581.9 L710.3 585.0 L708.7 580.0 L713.0 576.9 L707.7 576.9ZM726.7 295.5 L725.1 300.5 L719.8 300.5 L724.1 303.6 L722.5 308.6 L726.7 305.5 L731.0 308.6 L729.4 303.6 L733.7 300.5 L728.4 300.5ZM747.4 350.7 L745.8 355.8 L740.5 355.8 L744.8 358.9 L743.1 363.9 L747.4 360.8 L751.7 363.9 L750.0 358.9 L754.3 355.8 L749.0 355.8ZM768.1 129.6 L766.4 134.6 L761.2 134.6 L765.4 137.7 L763.8 142.7 L768.1 139.6 L772.3 142.7 L770.7 137.7 L775.0 134.6 L769.7 134.6ZM788.7 129.6 L787.1 134.6 L781.8 134.6 L786.1 137.7 L784.5 142.7 L788.7 139.6 L793.0 142.7 L791.4 137.7 L795.6 134.6 L790.4 134.6ZM809.4 224.4 L807.8 229.4 L802.5 229.4 L806.8 232.5 L805.1 237.5 L809.4 234.4 L813.7 237.5 L812.0 232.5 L816.3 229.4 L811.0 229.4ZM830.1 240.2 L828.4 245.2 L823.2 245.2 L827.4 248.3 L825.8 253.3 L830.1 250.2 L834.3 253.3 L832.7 248.3 L837.0 245.2 L831.7 245.2ZM850.7 129.6 L849.1 134.6 L843.8 134.6 L848.1 137.7 L846.5 142.7 L850.7 139.6 L855.0 142.7 L853.4 137.7 L857.6 134.6 L852.4 134.6ZM871.4 413.9 L869.8 418.9 L864.5 418.9 L868.7 422.0 L867.1 427.1 L871.4 424.0 L875.7 427.1 L874.0 422.0 L878.3 418.9 L873.0 418.9ZM892.0 319.1 L890.4 324.2 L885.1 324.2 L889.4 327.3 L887.8 332.3 L892.0 329.2 L896.3 332.3 L894.7 327.3 L899.0 324.2 L893.7 324.2ZM912.7 129.6 L911.1 134.6 L905.8 134.6 L910.1 137.7 L908.4 142.7 L912.7 139.6 L917.0 142.7 L915.3 137.7 L919.6 134.6 L914.3 134.6ZM933.4 129.6 L931.7 134.6 L926.5 134.6 L930.7 137.7 L929.1 142.7 L933.4 139.6 L937.6 142.7 L936.0 137.7 L940.3 134.6 L935.0 134.6ZM954.0 129.6 L952.4 134.6 L947.1 134.6 L951.4 137.7 L949.8 142.7 L954.0 139.6 L958.3 142.7 L956.7 137.7 L960.9 134.6 L955.7 134.6ZM974.7 627.2 L973.1 632.2 L967.8 632.2 L972.1 635.3 L970.4 640.3 L974.7 637.2 L979.0 640.3 L977.3 635.3 L981.6 632.2 L976.3 632.2ZM995.4 295.5 L993.7 300.5 L988.5 300.5 L992.7 303.6 L991.1 308.6 L995.4 305.5 L999.6 308.6 L998.0 303.6 L1002.3 300.5 L997.0 300.5ZM1016.0 129.6 L1014.4 134.6 L1009.1 134.6 L1013.4 137.7 L1011.8 142.7 L1016.0 139.6 L1020.3 142.7 L1018.7 137.7 L1022.9 134.6 L1017.7 134.6ZM1036.7 203.3 L1035.1 208.3 L1029.8 208.3 L1034.1 211.4 L1032.4 216.4 L1036.7 213.3 L1041.0 216.4 L1039.3 211.4 L1043.6 208.3 L1038.3 208.3ZM1057.4 203.3 L1055.7 208.3 L1050.4 208.3 L1054.7 211.4 L1053.1 216.4 L1057.4 213.3 L1061.6 216.4 L1060.0 211.4 L1064.3 208.3 L1059.0 208.3ZM1078.0 129.6 L1076.4 134.6 L1071.1 134.6 L1075.4 137.7 L1073.7 142.7 L1078.0 139.6 L1082.3 142.7 L1080.7 137.7 L1084.9 134.6 L1079.6 134.6ZM1098.7 461.3 L1097.0 466.3 L1091.8 466.3 L1096.0 469.4 L1094.4 474.4 L1098.7 471.3 L1102.9 474.4 L1101.3 469.4 L1105.6 466.3 L1100.3 466.3ZM1119.3 461.3 L1117.7 466.3 L1112.4 466.3 L1116.7 469.4 L1115.1 474.4 L1119.3 471.3 L1123.6 474.4 L1122.0 469.4 L1126.2 466.3 L1121.0 466.3ZM1140.0 435.8 L1138.4 440.8 L1133.1 440.8 L1137.4 443.9 L1135.7 448.9 L1140.0 445.8 L1144.3 448.9 L1142.6 443.9 L1146.9 440.8 L1141.6 440.8ZM1160.7 129.6 L1159.0 134.6 L1153.8 134.6 L1158.0 137.7 L1156.4 142.7 L1160.7 139.6 L1164.9 142.7 L1163.3 137.7 L1167.6 134.6 L1162.3 134.6ZM1181.3 262.3 L1179.7 267.3 L1174.4 267.3 L1178.7 270.4 L1177.1 275.4 L1181.3 272.3 L1185.6 275.4 L1184.0 270.4 L1188.2 267.3 L1183.0 267.3ZM1202.0 129.6 L1200.4 134.6 L1195.1 134.6 L1199.4 137.7 L1197.7 142.7 L1202.0 139.6 L1206.3 142.7 L1204.6 137.7 L1208.9 134.6 L1203.6 134.6ZM1222.7 129.6 L1221.0 134.6 L1215.8 134.6 L1220.0 137.7 L1218.4 142.7 L1222.7 139.6 L1226.9 142.7 L1225.3 137.7 L1229.6 134.6 L1224.3 134.6ZM1243.3 603.5 L1241.7 608.5 L1236.4 608.5 L1240.7 611.6 L1239.1 616.6 L1243.3 613.5 L1247.6 616.6 L1246.0 611.6 L1250.2 608.5 L1244.9 608.5ZM1264.0 129.6 L1262.4 134.6 L1257.1 134.6 L1261.3 137.7 L1259.7 142.7 L1264.0 139.6 L1268.2 142.7 L1266.6 137.7 L1270.9 134.6 L1265.6 134.6ZM1284.6 350.7 L1283.0 355.8 L1277.7 355.8 L1282.0 358.9 L1280.4 363.9 L1284.6 360.8 L1288.9 363.9 L1287.3 358.9 L1291.5 355.8 L1286.3 355.8ZM1305.3 129.6 L1303.7 134.6 L1298.4 134.6 L1302.7 137.7 L1301.0 142.7 L1305.3 139.6 L1309.6 142.7 L1307.9 137.7 L1312.2 134.6 L1306.9 134.6ZM1326.0 262.3 L1324.3 267.3 L1319.1 267.3 L1323.3 270.4 L1321.7 275.4 L1326.0 272.3 L1330.2 275.4 L1328.6 270.4 L1332.9 267.3 L1327.6 267.3ZM1346.6 129.6 L1345.0 134.6 L1339.7 134.6 L1344.0 137.7 L1342.4 142.7 L1346.6 139.6 L1350.9 142.7 L1349.3 137.7 L1353.5 134.6 L1348.3 134.6ZM1367.3 431.2 L1365.7 436.2 L1360.4 436.2 L1364.7 439.3 L1363.0 444.3 L1367.3 441.2 L1371.6 444.3 L1369.9 439.3 L1374.2 436.2 L1368.9 436.2ZM1388.0 162.8 L1386.3 167.8 L1381.1 167.8 L1385.3 170.9 L1383.7 175.9 L1388.0 172.8 L1392.2 175.9 L1390.6 170.9 L1394.9 167.8 L1389.6 167.8ZM1408.6 129.6 L1407.0 134.6 L1401.7 134.6 L1406.0 137.7 L1404.4 142.7 L1408.6 139.6 L1412.9 142.7 L1411.3 137.7 L1415.5 134.6 L1410.3 134.6ZM1429.3 262.3 L1427.7 267.3 L1422.4 267.3 L1426.6 270.4 L1425.0 275.4 L1429.3 272.3 L1433.6 275.4 L1431.9 270.4 L1436.2 267.3 L1430.9 267.3ZM1449.9 571.9 L1448.3 576.9 L1443.0 576.9 L1447.3 580.0 L1445.7 585.0 L1449.9 581.9 L1454.2 585.0 L1452.6 580.0 L1456.9 576.9 L1451.6 576.9ZM1470.6 295.5 L1469.0 300.5 L1463.7 300.5 L1468.0 303.6 L1466.3 308.6 L1470.6 305.5 L1474.9 308.6 L1473.2 303.6 L1477.5 300.5 L1472.2 300.5ZM1491.3 262.3 L1489.6 267.3 L1484.4 267.3 L1488.6 270.4 L1487.0 275.4 L1491.3 272.3 L1495.5 275.4 L1493.9 270.4 L1498.2 267.3 L1492.9 267.3ZM1511.9 129.6 L1510.3 134.6 L1505.0 134.6 L1509.3 137.7 L1507.7 142.7 L1511.9 139.6 L1516.2 142.7 L1514.6 137.7 L1518.8 134.6 L1513.6 134.6ZM1532.6 195.9 L1531.0 201.0 L1525.7 201.0 L1530.0 204.1 L1528.3 209.1 L1532.6 206.0 L1536.9 209.1 L1535.2 204.1 L1539.5 201.0 L1534.2 201.0ZM1553.3 571.9 L1551.6 576.9 L1546.4 576.9 L1550.6 580.0 L1549.0 585.0 L1553.3 581.9 L1557.5 585.0 L1555.9 580.0 L1560.2 576.9 L1554.9 576.9ZM1573.9 277.0 L1572.3 282.0 L1567.0 282.0 L1571.3 285.1 L1569.7 290.2 L1573.9 287.1 L1578.2 290.2 L1576.6 285.1 L1580.8 282.0 L1575.6 282.0ZM1594.6 350.7 L1593.0 355.8 L1587.7 355.8 L1592.0 358.9 L1590.3 363.9 L1594.6 360.8 L1598.9 363.9 L1597.2 358.9 L1601.5 355.8 L1596.2 355.8ZM1615.3 184.9 L1613.6 189.9 L1608.3 189.9 L1612.6 193.0 L1611.0 198.0 L1615.3 194.9 L1619.5 198.0 L1617.9 193.0 L1622.2 189.9 L1616.9 189.9ZM1635.9 395.0 L1634.3 400.0 L1629.0 400.0 L1633.3 403.1 L1631.6 408.1 L1635.9 405.0 L1640.2 408.1 L1638.6 403.1 L1642.8 400.0 L1637.5 400.0ZM1656.6 129.6 L1654.9 134.6 L1649.7 134.6 L1653.9 137.7 L1652.3 142.7 L1656.6 139.6 L1660.8 142.7 L1659.2 137.7 L1663.5 134.6 L1658.2 134.6ZM1677.2 129.6 L1675.6 134.6 L1670.3 134.6 L1674.6 137.7 L1673.0 142.7 L1677.2 139.6 L1681.5 142.7 L1679.9 137.7 L1684.1 134.6 L1678.9 134.6ZM1697.9 129.6 L1696.3 134.6 L1691.0 134.6 L1695.3 137.7 L1693.6 142.7 L1697.9 139.6 L1702.2 142.7 L1700.5 137.7 L1704.8 134.6 L1699.5 134.6ZM1718.6 129.6 L1716.9 134.6 L1711.7 134.6 L1715.9 137.7 L1714.3 142.7 L1718.6 139.6 L1722.8 142.7 L1721.2 137.7 L1725.5 134.6 L1720.2 134.6ZM1739.2 571.9 L1737.6 576.9 L1732.3 576.9 L1736.6 580.0 L1735.0 585.0 L1739.2 581.9 L1743.5 585.0 L1741.9 580.0 L1746.1 576.9 L1740.9 576.9ZM1759.9 262.3 L1758.3 267.3 L1753.0 267.3 L1757.3 270.4 L1755.6 275.4 L1759.9 272.3 L1764.2 275.4 L1762.5 270.4 L1766.8 267.3 L1761.5 267.3ZM1780.6 282.7 L1778.9 287.7 L1773.6 287.7 L1777.9 290.8 L1776.3 295.8 L1780.6 292.7 L1784.8 295.8 L1783.2 290.8 L1787.5 287.7 L1782.2 287.7ZM1801.2 378.4 L1799.6 383.4 L1794.3 383.4 L1798.6 386.5 L1797.0 391.5 L1801.2 388.4 L1805.5 391.5 L1803.9 386.5 L1808.1 383.4 L1802.8 383.4ZM1821.9 129.6 L1820.3 134.6 L1815.0 134.6 L1819.2 137.7 L1817.6 142.7 L1821.9 139.6 L1826.1 142.7 L1824.5 137.7 L1828.8 134.6 L1823.5 134.6ZM1842.5 129.6 L1840.9 134.6 L1835.6 134.6 L1839.9 137.7 L1838.3 142.7 L1842.5 139.6 L1846.8 142.7 L1845.2 137.7 L1849.4 134.6 L1844.2 134.6ZM1863.2 129.6 L1861.6 134.6 L1856.3 134.6 L1860.6 137.7 L1858.9 142.7 L1863.2 139.6 L1867.5 142.7 L1865.8 137.7 L1870.1 134.6 L1864.8 134.6ZM1883.9 129.6 L1882.2 134.6 L1877.0 134.6 L1881.2 137.7 L1879.6 142.7 L1883.9 139.6 L1888.1 142.7 L1886.5 137.7 L1890.8 134.6 L1885.5 134.6ZM1904.5 129.6 L1902.9 134.6 L1897.6 134.6 L1901.9 137.7 L1900.3 142.7 L1904.5 139.6 L1908.8 142.7 L1907.2 137.7 L1911.4 134.6 L1906.2 134.6ZM1925.2 129.6 L1923.6 134.6 L1918.3 134.6 L1922.6 137.7 L1920.9 142.7 L1925.2 139.6 L1929.5 142.7 L1927.8 137.7 L1932.1 134.6 L1926.8 134.6ZM1945.9 129.6 L1944.2 134.6 L1939.0 134.6 L1943.2 137.7 L1941.6 142.7 L1945.9 139.6 L1950.1 142.7 L1948.5 137.7 L1952.8 134.6 L1947.5 134.6ZM1966.5 350.7 L1964.9 355.8 L1959.6 355.8 L1963.9 358.9 L1962.3 363.9 L1966.5 360.8 L1970.8 363.9 L1969.2 358.9 L1973.4 355.8 L1968.2 355.8ZM1987.2 571.9 L1985.6 576.9 L1980.3 576.9 L1984.5 580.0 L1982.9 585.0 L1987.2 581.9 L1991.5 585.0 L1989.8 580.0 L1994.1 576.9 L1988.8 576.9ZM2007.8 395.0 L2006.2 400.0 L2000.9 400.0 L2005.2 403.1 L2003.6 408.1 L2007.8 405.0 L2012.1 408.1 L2010.5 403.1 L2014.8 400.0 L2009.5 400.0ZM2028.5 129.6 L2026.9 134.6 L2021.6 134.6 L2025.9 137.7 L2024.2 142.7 L2028.5 139.6 L2032.8 142.7 L2031.1 137.7 L2035.4 134.6 L2030.1 134.6ZM2049.2 129.6 L2047.5 134.6 L2042.3 134.6 L2046.5 137.7 L2044.9 142.7 L2049.2 139.6 L2053.4 142.7 L2051.8 137.7 L2056.1 134.6 L2050.8 134.6ZM2069.8 295.5 L2068.2 300.5 L2062.9 300.5 L2067.2 303.6 L2065.6 308.6 L2069.8 305.5 L2074.1 308.6 L2072.5 303.6 L2076.7 300.5 L2071.5 300.5ZM2090.5 395.0 L2088.9 400.0 L2083.6 400.0 L2087.9 403.1 L2086.2 408.1 L2090.5 405.0 L2094.8 408.1 L2093.1 403.1 L2097.4 400.0 L2092.1 400.0ZM2111.2 660.3 L2109.5 665.4 L2104.3 665.4 L2108.5 668.5 L2106.9 673.5 L2111.2 670.4 L2115.4 673.5 L2113.8 668.5 L2118.1 665.4 L2112.8 665.4ZM2131.8 129.6 L2130.2 134.6 L2124.9 134.6 L2129.2 137.7 L2127.6 142.7 L2131.8 139.6 L2136.1 142.7 L2134.5 137.7 L2138.7 134.6 L2133.5 134.6ZM2152.5 129.6 L2150.9 134.6 L2145.6 134.6 L2149.8 137.7 L2148.2 142.7 L2152.5 139.6 L2156.8 142.7 L2155.1 137.7 L2159.4 134.6 L2154.1 134.6ZM2173.1 571.9 L2171.5 576.9 L2166.2 576.9 L2170.5 580.0 L2168.9 585.0 L2173.1 581.9 L2177.4 585.0 L2175.8 580.0 L2180.1 576.9 L2174.8 576.9Z" fill="#800000" stroke="#800000" stroke-width="2.42" stroke-linejoin="bevel"/>
<polyline points="334.1,328.3 354.8,256.7 375.5,223.4 396.1,302.7 416.8,136.9 437.5,534.9 458.1,468.6 478.8,302.7 499.5,302.7 520.1,431.7 540.8,468.6 561.4,302.7 582.1,505.4 602.8,596.2 623.4,231.6 644.1,534.9 664.8,358.0 685.4,579.1 706.1,610.7 726.7,302.7 747.4,505.4 768.1,136.9 788.7,231.6 809.4,332.0 830.1,197.2 850.7,231.6 871.4,392.0 892.0,247.4 912.7,136.9 933.4,136.9 954.0,136.9 974.7,610.7 995.4,302.7 1016.0,171.8 1036.7,241.6 1057.4,241.6 1078.0,231.6 1098.7,402.2 1119.3,468.6 1140.0,358.0 1160.7,136.9 1181.3,210.6 1202.0,231.6 1222.7,231.6 1243.3,559.0 1264.0,679.7 1284.6,269.5 1305.3,136.9 1326.0,210.6 1346.6,231.6 1367.3,381.3 1388.0,200.0 1408.6,136.9 1429.3,210.6 1449.9,610.7 1470.6,302.7 1491.3,317.8 1511.9,136.9 1532.6,203.2 1553.3,652.9 1573.9,253.9 1594.6,269.5 1615.3,192.1 1635.9,438.4 1656.6,231.6 1677.2,136.9 1697.9,136.9 1718.6,231.6 1739.2,534.9 1759.9,317.8 1780.6,223.4 1801.2,302.7 1821.9,231.6 1842.5,358.0 1863.2,197.2 1883.9,136.9 1904.5,136.9 1925.2,136.9 1945.9,534.9 1966.5,269.5 1987.2,494.1 2007.8,358.0 2028.5,136.9 2049.2,136.9 2069.8,402.2 2090.5,358.0 2111.2,652.9 2131.8,136.9 2152.5,136.9 2173.1,610.7" fill="none" stroke="#800080" stroke-width="4.90" stroke-linejoin="round" stroke-linecap="square"/>
<path d="M334.1 321.0 L332.5 326.0 L327.2 326.0 L331.5 329.2 L329.9 334.2 L334.1 331.1 L338.4 334.2 L336.8 329.2 L341.1 326.0 L335.8 326.0ZM354.8 249.4 L353.2 254.4 L347.9 254.4 L352.2 257.5 L350.5 262.6 L354.8 259.5 L359.1 262.6 L357.5 257.5 L361.7 254.4 L356.4 254.4ZM375.5 216.1 L373.8 221.1 L368.6 221.1 L372.8 224.2 L371.2 229.3 L375.5 226.2 L379.7 229.3 L378.1 224.2 L382.4 221.1 L377.1 221.1ZM396.1 295.5 L394.5 300.5 L389.2 300.5 L393.5 303.6 L391.9 308.6 L396.1 305.5 L400.4 308.6 L398.8 303.6 L403.0 300.5 L397.8 300.5ZM416.8 129.6 L415.2 134.6 L409.9 134.6 L414.2 137.7 L412.5 142.7 L416.8 139.6 L421.1 142.7 L419.4 137.7 L423.7 134.6 L418.4 134.6ZM437.5 527.7 L435.8 532.7 L430.6 532.7 L434.8 535.8 L433.2 540.8 L437.5 537.7 L441.7 540.8 L440.1 535.8 L444.4 532.7 L439.1 532.7ZM458.1 461.3 L456.5 466.3 L451.2 466.3 L455.5 469.4 L453.9 474.4 L458.1 471.3 L462.4 474.4 L460.8 469.4 L465.0 466.3 L459.8 466.3ZM478.8 295.5 L477.2 300.5 L471.9 300.5 L476.2 303.6 L474.5 308.6 L478.8 305.5 L483.1 308.6 L481.4 303.6 L485.7 300.5 L480.4 300.5ZM499.5 295.5 L497.8 300.5 L492.5 300.5 L496.8 303.6 L495.2 308.6 L499.5 305.5 L503.7 308.6 L502.1 303.6 L506.4 300.5 L501.1 300.5ZM520.1 424.5 L518.5 429.5 L513.2 429.5 L517.5 432.6 L515.8 437.6 L520.1 434.5 L524.4 437.6 L522.8 432.6 L527.0 429.5 L521.7 429.5ZM540.8 461.3 L539.1 466.3 L533.9 466.3 L538.1 469.4 L536.5 474.4 L540.8 471.3 L545.0 474.4 L543.4 469.4 L547.7 466.3 L542.4 466.3ZM561.4 295.5 L559.8 300.5 L554.5 300.5 L558.8 303.6 L557.2 308.6 L561.4 305.5 L565.7 308.6 L564.1 303.6 L568.3 300.5 L563.1 300.5ZM582.1 498.2 L580.5 503.2 L575.2 503.2 L579.5 506.3 L577.8 511.3 L582.1 508.2 L586.4 511.3 L584.7 506.3 L589.0 503.2 L583.7 503.2ZM602.8 588.9 L601.1 593.9 L595.9 593.9 L600.1 597.0 L598.5 602.0 L602.8 598.9 L607.0 602.0 L605.4 597.0 L609.7 593.9 L604.4 593.9ZM623.4 224.4 L621.8 229.4 L616.5 229.4 L620.8 232.5 L619.2 237.5 L623.4 234.4 L627.7 237.5 L626.1 232.5 L630.3 229.4 L625.1 229.4ZM644.1 527.7 L642.5 532.7 L637.2 532.7 L641.5 535.8 L639.8 540.8 L644.1 537.7 L648.4 540.8 L646.7 535.8 L651.0 532.7 L645.7 532.7ZM664.8 350.7 L663.1 355.8 L657.9 355.8 L662.1 358.9 L660.5 363.9 L664.8 360.8 L669.0 363.9 L667.4 358.9 L671.7 355.8 L666.4 355.8ZM685.4 571.9 L683.8 576.9 L678.5 576.9 L682.8 580.0 L681.2 585.0 L685.4 581.9 L689.7 585.0 L688.1 580.0 L692.3 576.9 L687.0 576.9ZM706.1 603.5 L704.5 608.5 L699.2 608.5 L703.4 611.6 L701.8 616.6 L706.1 613.5 L710.3 616.6 L708.7 611.6 L713.0 608.5 L707.7 608.5ZM726.7 295.5 L725.1 300.5 L719.8 300.5 L724.1 303.6 L722.5 308.6 L726.7 305.5 L731.0 308.6 L729.4 303.6 L733.7 300.5 L728.4 300.5ZM747.4 498.2 L745.8 503.2 L740.5 503.2 L744.8 506.3 L743.1 511.3 L747.4 508.2 L751.7 511.3 L750.0 506.3 L754.3 503.2 L749.0 503.2ZM768.1 129.6 L766.4 134.6 L761.2 134.6 L765.4 137.7 L763.8 142.7 L768.1 139.6 L772.3 142.7 L770.7 137.7 L775.0 134.6 L769.7 134.6ZM788.7 224.4 L787.1 229.4 L781.8 229.4 L786.1 232.5 L784.5 237.5 L788.7 234.4 L793.0 237.5 L791.4 232.5 L795.6 229.4 L790.4 229.4ZM809.4 324.7 L807.8 329.7 L802.5 329.7 L806.8 332.8 L805.1 337.9 L809.4 334.8 L813.7 337.9 L812.0 332.8 L816.3 329.7 L811.0 329.7ZM830.1 189.9 L828.4 194.9 L823.2 194.9 L827.4 198.0 L825.8 203.0 L830.1 199.9 L834.3 203.0 L832.7 198.0 L837.0 194.9 L831.7 194.9ZM850.7 224.4 L849.1 229.4 L843.8 229.4 L848.1 232.5 L846.5 237.5 L850.7 234.4 L855.0 237.5 L853.4 232.5 L857.6 229.4 L852.4 229.4ZM871.4 384.8 L869.8 389.8 L864.5 389.8 L868.7 392.9 L867.1 397.9 L871.4 394.8 L875.7 397.9 L874.0 392.9 L878.3 389.8 L873.0 389.8ZM892.0 240.2 L890.4 245.2 L885.1 245.2 L889.4 248.3 L887.8 253.3 L892.0 250.2 L896.3 253.3 L894.7 248.3 L899.0 245.2 L893.7 245.2ZM912.7 129.6 L911.1 134.6 L905.8 134.6 L910.1 137.7 L908.4 142.7 L912.7 139.6 L917.0 142.7 L915.3 137.7 L919.6 134.6 L914.3 134.6ZM933.4 129.6 L931.7 134.6 L926.5 134.6 L930.7 137.7 L929.1 142.7 L933.4 139.6 L937.6 142.7 L936.0 137.7 L940.3 134.6 L935.0 134.6ZM954.0 129.6 L952.4 134.6 L947.1 134.6 L951.4 137.7 L949.8 142.7 L954.0 139.6 L958.3 142.7 L956.7 137.7 L960.9 134.6 L955.7 134.6ZM974.7 603.5 L973.1 608.5 L967.8 608.5 L972.1 611.6 L970.4 616.6 L974.7 613.5 L979.0 616.6 L977.3 611.6 L981.6 608.5 L976.3 608.5ZM995.4 295.5 L993.7 300.5 L988.5 300.5 L992.7 303.6 L991.1 308.6 L995.4 305.5 L999.6 308.6 L998.0 303.6 L1002.3 300.5 L997.0 300.5ZM1016.0 164.5 L1014.4 169.5 L1009.1 169.5 L1013.4 172.6 L1011.8 177.6 L1016.0 174.5 L1020.3 177.6 L1018.7 172.6 L1022.9 169.5 L1017.7 169.5ZM1036.7 234.3 L1035.1 239.4 L1029.8 239.4 L1034.1 242.5 L1032.4 247.5 L1036.7 244.4 L1041.0 247.5 L1039.3 242.5 L1043.6 239.4 L1038.3 239.4ZM1057.4 234.3 L1055.7 239.4 L1050.4 239.4 L1054.7 242.5 L1053.1 247.5 L1057.4 244.4 L1061.6 247.5 L1060.0 242.5 L1064.3 239.4 L1059.0 239.4ZM1078.0 224.4 L1076.4 229.4 L1071.1 229.4 L1075.4 232.5 L1073.7 237.5 L1078.0 234.4 L1082.3 237.5 L1080.7 232.5 L1084.9 229.4 L1079.6 229.4ZM1098.7 395.0 L1097.0 400.0 L1091.8 400.0 L1096.0 403.1 L1094.4 408.1 L1098.7 405.0 L1102.9 408.1 L1101.3 403.1 L1105.6 400.0 L1100.3 400.0ZM1119.3 461.3 L1117.7 466.3 L1112.4 466.3 L1116.7 469.4 L1115.1 474.4 L1119.3 471.3 L1123.6 474.4 L1122.0 469.4 L1126.2 466.3 L1121.0 466.3ZM1140.0 350.7 L1138.4 355.8 L1133.1 355.8 L1137.4 358.9 L1135.7 363.9 L1140.0 360.8 L1144.3 363.9 L1142.6 358.9 L1146.9 355.8 L1141.6 355.8ZM1160.7 129.6 L1159.0 134.6 L1153.8 134.6 L1158.0 137.7 L1156.4 142.7 L1160.7 139.6 L1164.9 142.7 L1163.3 137.7 L1167.6 134.6 L1162.3 134.6ZM1181.3 203.3 L1179.7 208.3 L1174.4 208.3 L1178.7 211.4 L1177.1 216.4 L1181.3 213.3 L1185.6 216.4 L1184.0 211.4 L1188.2 208.3 L1183.0 208.3ZM1202.0 224.4 L1200.4 229.4 L1195.1 229.4 L1199.4 232.5 L1197.7 237.5 L1202.0 234.4 L1206.3 237.5 L1204.6 232.5 L1208.9 229.4 L1203.6 229.4ZM1222.7 224.4 L1221.0 229.4 L1215.8 229.4 L1220.0 232.5 L1218.4 237.5 L1222.7 234.4 L1226.9 237.5 L1225.3 232.5 L1229.6 229.4 L1224.3 229.4ZM1243.3 551.8 L1241.7 556.8 L1236.4 556.8 L1240.7 559.9 L1239.1 564.9 L1243.3 561.8 L1247.6 564.9 L1246.0 559.9 L1250.2 556.8 L1244.9 556.8ZM1264.0 672.4 L1262.4 677.4 L1257.1 677.4 L1261.3 680.5 L1259.7 685.5 L1264.0 682.4 L1268.2 685.5 L1266.6 680.5 L1270.9 677.4 L1265.6 677.4ZM1284.6 262.3 L1283.0 267.3 L1277.7 267.3 L1282.0 270.4 L1280.4 275.4 L1284.6 272.3 L1288.9 275.4 L1287.3 270.4 L1291.5 267.3 L1286.3 267.3ZM1305.3 129.6 L1303.7 134.6 L1298.4 134.6 L1302.7 137.7 L1301.0 142.7 L1305.3 139.6 L1309.6 142.7 L1307.9 137.7 L1312.2 134.6 L1306.9 134.6ZM1326.0 203.3 L1324.3 208.3 L1319.1 208.3 L1323.3 211.4 L1321.7 216.4 L1326.0 213.3 L1330.2 216.4 L1328.6 211.4 L1332.9 208.3 L1327.6 208.3ZM1346.6 224.4 L1345.0 229.4 L1339.7 229.4 L1344.0 232.5 L1342.4 237.5 L1346.6 234.4 L1350.9 237.5 L1349.3 232.5 L1353.5 229.4 L1348.3 229.4ZM1367.3 374.0 L1365.7 379.0 L1360.4 379.0 L1364.7 382.1 L1363.0 387.2 L1367.3 384.1 L1371.6 387.2 L1369.9 382.1 L1374.2 379.0 L1368.9 379.0ZM1388.0 192.8 L1386.3 197.8 L1381.1 197.8 L1385.3 200.9 L1383.7 205.9 L1388.0 202.8 L1392.2 205.9 L1390.6 200.9 L1394.9 197.8 L1389.6 197.8ZM1408.6 129.6 L1407.0 134.6 L1401.7 134.6 L1406.0 137.7 L1404.4 142.7 L1408.6 139.6 L1412.9 142.7 L1411.3 137.7 L1415.5 134.6 L1410.3 134.6ZM1429.3 203.3 L1427.7 208.3 L1422.4 208.3 L1426.6 211.4 L1425.0 216.4 L1429.3 213.3 L1433.6 216.4 L1431.9 211.4 L1436.2 208.3 L1430.9 208.3ZM1449.9 603.5 L1448.3 608.5 L1443.0 608.5 L1447.3 611.6 L1445.7 616.6 L1449.9 613.5 L1454.2 616.6 L1452.6 611.6 L1456.9 608.5 L1451.6 608.5ZM1470.6 295.5 L1469.0 300.5 L1463.7 300.5 L1468.0 303.6 L1466.3 308.6 L1470.6 305.5 L1474.9 308.6 L1473.2 303.6 L1477.5 300.5 L1472.2 300.5ZM1491.3 310.5 L1489.6 315.5 L1484.4 315.5 L1488.6 318.6 L1487.0 323.7 L1491.3 320.6 L1495.5 323.7 L1493.9 318.6 L1498.2 315.5 L1492.9 315.5ZM1511.9 129.6 L1510.3 134.6 L1505.0 134.6 L1509.3 137.7 L1507.7 142.7 L1511.9 139.6 L1516.2 142.7 L1514.6 137.7 L1518.8 134.6 L1513.6 134.6ZM1532.6 195.9 L1531.0 201.0 L1525.7 201.0 L1530.0 204.1 L1528.3 209.1 L1532.6 206.0 L1536.9 209.1 L1535.2 204.1 L1539.5 201.0 L1534.2 201.0ZM1553.3 645.6 L1551.6 650.6 L1546.4 650.6 L1550.6 653.7 L1549.0 658.7 L1553.3 655.6 L1557.5 658.7 L1555.9 653.7 L1560.2 650.6 L1554.9 650.6ZM1573.9 246.7 L1572.3 251.7 L1567.0 251.7 L1571.3 254.8 L1569.7 259.8 L1573.9 256.7 L1578.2 259.8 L1576.6 254.8 L1580.8 251.7 L1575.6 251.7ZM1594.6 262.3 L1593.0 267.3 L1587.7 267.3 L1592.0 270.4 L1590.3 275.4 L1594.6 272.3 L1598.9 275.4 L1597.2 270.4 L1601.5 267.3 L1596.2 267.3ZM1615.3 184.9 L1613.6 189.9 L1608.3 189.9 L1612.6 193.0 L1611.0 198.0 L1615.3 194.9 L1619.5 198.0 L1617.9 193.0 L1622.2 189.9 L1616.9 189.9ZM1635.9 431.2 L1634.3 436.2 L1629.0 436.2 L1633.3 439.3 L1631.6 444.3 L1635.9 441.2 L1640.2 444.3 L1638.6 439.3 L1642.8 436.2 L1637.5 436.2ZM1656.6 224.4 L1654.9 229.4 L1649.7 229.4 L1653.9 232.5 L1652.3 237.5 L1656.6 234.4 L1660.8 237.5 L1659.2 232.5 L1663.5 229.4 L1658.2 229.4ZM1677.2 129.6 L1675.6 134.6 L1670.3 134.6 L1674.6 137.7 L1673.0 142.7 L1677.2 139.6 L1681.5 142.7 L1679.9 137.7 L1684.1 134.6 L1678.9 134.6ZM1697.9 129.6 L1696.3 134.6 L1691.0 134.6 L1695.3 137.7 L1693.6 142.7 L1697.9 139.6 L1702.2 142.7 L1700.5 137.7 L1704.8 134.6 L1699.5 134.6ZM1718.6 224.4 L1716.9 229.4 L1711.7 229.4 L1715.9 232.5 L1714.3 237.5 L1718.6 234.4 L1722.8 237.5 L1721.2 232.5 L1725.5 229.4 L1720.2 229.4ZM1739.2 527.7 L1737.6 532.7 L1732.3 532.7 L1736.6 535.8 L1735.0 540.8 L1739.2 537.7 L1743.5 540.8 L1741.9 535.8 L1746.1 532.7 L1740.9 532.7ZM1759.9 310.5 L1758.3 315.5 L1753.0 315.5 L1757.3 318.6 L1755.6 323.7 L1759.9 320.6 L1764.2 323.7 L1762.5 318.6 L1766.8 315.5 L1761.5 315.5ZM1780.6 216.1 L1778.9 221.1 L1773.6 221.1 L1777.9 224.2 L1776.3 229.3 L1780.6 226.2 L1784.8 229.3 L1783.2 224.2 L1787.5 221.1 L1782.2 221.1ZM1801.2 295.5 L1799.6 300.5 L1794.3 300.5 L1798.6 303.6 L1797.0 308.6 L1801.2 305.5 L1805.5 308.6 L1803.9 303.6 L1808.1 300.5 L1802.8 300.5ZM1821.9 224.4 L1820.3 229.4 L1815.0 229.4 L1819.2 232.5 L1817.6 237.5 L1821.9 234.4 L1826.1 237.5 L1824.5 232.5 L1828.8 229.4 L1823.5 229.4ZM1842.5 350.7 L1840.9 355.8 L1835.6 355.8 L1839.9 358.9 L1838.3 363.9 L1842.5 360.8 L1846.8 363.9 L1845.2 358.9 L1849.4 355.8 L1844.2 355.8ZM1863.2 189.9 L1861.6 194.9 L1856.3 194.9 L1860.6 198.0 L1858.9 203.0 L1863.2 199.9 L1867.5 203.0 L1865.8 198.0 L1870.1 194.9 L1864.8 194.9ZM1883.9 129.6 L1882.2 134.6 L1877.0 134.6 L1881.2 137.7 L1879.6 142.7 L1883.9 139.6 L1888.1 142.7 L1886.5 137.7 L1890.8 134.6 L1885.5 134.6ZM1904.5 129.6 L1902.9 134.6 L1897.6 134.6 L1901.9 137.7 L1900.3 142.7 L1904.5 139.6 L1908.8 142.7 L1907.2 137.7 L1911.4 134.6 L1906.2 134.6ZM1925.2 129.6 L1923.6 134.6 L1918.3 134.6 L1922.6 137.7 L1920.9 142.7 L1925.2 139.6 L1929.5 142.7 L1927.8 137.7 L1932.1 134.6 L1926.8 134.6ZM1945.9 527.7 L1944.2 532.7 L1939.0 532.7 L1943.2 535.8 L1941.6 540.8 L1945.9 537.7 L1950.1 540.8 L1948.5 535.8 L1952.8 532.7 L1947.5 532.7ZM1966.5 262.3 L1964.9 267.3 L1959.6 267.3 L1963.9 270.4 L1962.3 275.4 L1966.5 272.3 L1970.8 275.4 L1969.2 270.4 L1973.4 267.3 L1968.2 267.3ZM1987.2 486.8 L1985.6 491.8 L1980.3 491.8 L1984.5 494.9 L1982.9 500.0 L1987.2 496.9 L1991.5 500.0 L1989.8 494.9 L1994.1 491.8 L1988.8 491.8ZM2007.8 350.7 L2006.2 355.8 L2000.9 355.8 L2005.2 358.9 L2003.6 363.9 L2007.8 360.8 L2012.1 363.9 L2010.5 358.9 L2014.8 355.8 L2009.5 355.8ZM2028.5 129.6 L2026.9 134.6 L2021.6 134.6 L2025.9 137.7 L2024.2 142.7 L2028.5 139.6 L2032.8 142.7 L2031.1 137.7 L2035.4 134.6 L2030.1 134.6ZM2049.2 129.6 L2047.5 134.6 L2042.3 134.6 L2046.5 137.7 L2044.9 142.7 L2049.2 139.6 L2053.4 142.7 L2051.8 137.7 L2056.1 134.6 L2050.8 134.6ZM2069.8 395.0 L2068.2 400.0 L2062.9 400.0 L2067.2 403.1 L2065.6 408.1 L2069.8 405.0 L2074.1 408.1 L2072.5 403.1 L2076.7 400.0 L2071.5 400.0ZM2090.5 350.7 L2088.9 355.8 L2083.6 355.8 L2087.9 358.9 L2086.2 363.9 L2090.5 360.8 L2094.8 363.9 L2093.1 358.9 L2097.4 355.8 L2092.1 355.8ZM2111.2 645.6 L2109.5 650.6 L2104.3 650.6 L2108.5 653.7 L2106.9 658.7 L2111.2 655.6 L2115.4 658.7 L2113.8 653.7 L2118.1 650.6 L2112.8 650.6ZM2131.8 129.6 L2130.2 134.6 L2124.9 134.6 L2129.2 137.7 L2127.6 142.7 L2131.8 139.6 L2136.1 142.7 L2134.5 137.7 L2138.7 134.6 L2133.5 134.6ZM2152.5 129.6 L2150.9 134.6 L2145.6 134.6 L2149.8 137.7 L2148.2 142.7 L2152.5 139.6 L2156.8 142.7 L2155.1 137.7 L2159.4 134.6 L2154.1 134.6ZM2173.1 603.5 L2171.5 608.5 L2166.2 608.5 L2170.5 611.6 L2168.9 616.6 L2173.1 613.5 L2177.4 616.6 L2175.8 611.6 L2180.1 608.5 L2174.8 608.5Z" fill="#800080" stroke="#800080" stroke-width="2.42" stroke-linejoin="bevel"/>
<rect x="242.20" y="107.00" width="2022.90" height="656.80" fill="none" stroke="#000" stroke-width="1.94"/>
<line x1="334.15" y1="763.80" x2="334.15" y2="772.27" stroke="#000" stroke-width="1.94"/>
<text x="334.1" y="818.2" text-anchor="middle">0</text>
<line x1="747.41" y1="763.80" x2="747.41" y2="772.27" stroke="#000" stroke-width="1.94"/>
<text x="747.4" y="818.2" text-anchor="middle">20</text>
<line x1="1160.67" y1="763.80" x2="1160.67" y2="772.27" stroke="#000" stroke-width="1.94"/>
<text x="1160.7" y="818.2" text-anchor="middle">40</text>
<line x1="1573.93" y1="763.80" x2="1573.93" y2="772.27" stroke="#000" stroke-width="1.94"/>
<text x="1573.9" y="818.2" text-anchor="middle">60</text>
<line x1="1987.18" y1="763.80" x2="1987.18" y2="772.27" stroke="#000" stroke-width="1.94"/>
<text x="1987.2" y="818.2" text-anchor="middle">80</text>
<line x1="233.73" y1="136.85" x2="242.20" y2="136.85" stroke="#000" stroke-width="1.94"/>
<text x="225.9" y="154.7" text-anchor="end">100</text>
<line x1="233.73" y1="269.54" x2="242.20" y2="269.54" stroke="#000" stroke-width="1.94"/>
<text x="225.9" y="287.4" text-anchor="end">80</text>
<line x1="233.73" y1="402.23" x2="242.20" y2="402.23" stroke="#000" stroke-width="1.94"/>
<text x="225.9" y="420.1" text-anchor="end">60</text>
<line x1="233.73" y1="534.92" x2="242.20" y2="534.92" stroke="#000" stroke-width="1.94"/>
<text x="225.9" y="552.8" text-anchor="end">40</text>
<line x1="233.73" y1="667.60" x2="242.20" y2="667.60" stroke="#000" stroke-width="1.94"/>
<text x="225.9" y="685.5" text-anchor="end">20</text>
<text x="1255.6" y="92.9" text-anchor="middle">Classification Report of Hybrid features model for ECG-ID database</text>
<text x="1254.6" y="873.8" text-anchor="middle">Person ID</text>
<text transform="translate(113.4,433.9) rotate(-90)" text-anchor="middle">Percentage (%)</text>
<rect x="1817.8" y="441.2" width="423.3" height="298.0" rx="9.2" fill="#fff" fill-opacity="0.8" stroke="#ccc" stroke-opacity="0.8" stroke-width="2.42"/>
<line x1="1837.2" y1="480.5" x2="1934.0" y2="480.5" stroke="#07126d" stroke-width="4.90" stroke-linecap="square"/>
<path d="M1885.6 473.2 L1883.9 478.3 L1878.7 478.3 L1882.9 481.4 L1881.3 486.4 L1885.6 483.3 L1889.8 486.4 L1888.2 481.4 L1892.5 478.3 L1887.2 478.3Z" fill="#07126d" stroke="#07126d" stroke-width="2.42" stroke-linejoin="bevel"/>
<text x="1972.0" y="497.4">Specificity</text>
<line x1="1837.2" y1="551.4" x2="1934.0" y2="551.4" stroke="#008000" stroke-width="4.90" stroke-linecap="square"/>
<path d="M1885.6 544.2 L1883.9 549.2 L1878.7 549.2 L1882.9 552.3 L1881.3 557.3 L1885.6 554.2 L1889.8 557.3 L1888.2 552.3 L1892.5 549.2 L1887.2 549.2Z" fill="#008000" stroke="#008000" stroke-width="2.42" stroke-linejoin="bevel"/>
<text x="1972.0" y="568.4">Recall</text>
<line x1="1837.2" y1="622.4" x2="1934.0" y2="622.4" stroke="#800000" stroke-width="4.90" stroke-linecap="square"/>
<path d="M1885.6 615.1 L1883.9 620.1 L1878.7 620.1 L1882.9 623.2 L1881.3 628.2 L1885.6 625.1 L1889.8 628.2 L1888.2 623.2 L1892.5 620.1 L1887.2 620.1Z" fill="#800000" stroke="#800000" stroke-width="2.42" stroke-linejoin="bevel"/>
<text x="1972.0" y="639.3">Precision</text>
<line x1="1837.2" y1="693.3" x2="1934.0" y2="693.3" stroke="#800080" stroke-width="4.90" stroke-linecap="square"/>
<path d="M1885.6 686.0 L1883.9 691.0 L1878.7 691.0 L1882.9 694.1 L1881.3 699.2 L1885.6 696.1 L1889.8 699.2 L1888.2 694.1 L1892.5 691.0 L1887.2 691.0Z" fill="#800080" stroke="#800080" stroke-width="2.42" stroke-linejoin="bevel"/>
<text x="1972.0" y="710.2">F1 score</text>
</g>
<text x="1172.0" y="1000.5" text-anchor="middle" font-family='"Liberation Serif",serif' font-size="86"><tspan>(</tspan><tspan font-weight="bold" font-size="81" dx="-1.5">a</tspan><tspan dx="-1.5">)</tspan></text>
<g id="chart-b">
<polyline points="334.1,1208.2 373.3,1209.2 412.4,1208.2 451.5,1208.2 490.7,1218.2 529.8,1208.2 568.9,1213.9 608.0,1209.2 647.2,1212.1 686.3,1208.2 725.4,1210.0 764.6,1210.0 803.7,1208.2 842.8,1210.3 881.9,1208.2 921.1,1208.2 960.2,1208.5 999.3,1208.5 1038.4,1208.2 1077.6,1208.5 1116.7,1208.2 1155.8,1208.2 1195.0,1210.0 1234.1,1216.1 1273.2,1221.1 1312.3,1216.1 1351.5,1218.2 1390.6,1210.3 1429.7,1216.8 1468.9,1214.6 1508.0,1210.7 1547.1,1215.4 1586.2,1209.2 1625.4,1210.7 1664.5,1211.8 1703.6,1212.8 1742.7,1212.1 1781.9,1208.9 1821.0,1208.9 1860.1,1213.2 1899.3,1216.8 1938.4,1216.1 1977.5,1216.8 2016.6,1209.2 2055.8,1208.2 2094.9,1208.5 2134.0,1210.7 2173.2,1208.5" fill="none" stroke="#07126d" stroke-width="4.90" stroke-linejoin="round" stroke-linecap="square"/>
<path d="M334.1 1200.9 L332.5 1205.9 L327.2 1205.9 L331.5 1209.0 L329.9 1214.0 L334.1 1210.9 L338.4 1214.0 L336.8 1209.0 L341.1 1205.9 L335.8 1205.9ZM373.3 1202.0 L371.6 1207.0 L366.4 1207.0 L370.6 1210.1 L369.0 1215.1 L373.3 1212.0 L377.5 1215.1 L375.9 1210.1 L380.2 1207.0 L374.9 1207.0ZM412.4 1200.9 L410.8 1205.9 L405.5 1205.9 L409.8 1209.0 L408.1 1214.0 L412.4 1210.9 L416.7 1214.0 L415.0 1209.0 L419.3 1205.9 L414.0 1205.9ZM451.5 1200.9 L449.9 1205.9 L444.6 1205.9 L448.9 1209.0 L447.3 1214.0 L451.5 1210.9 L455.8 1214.0 L454.2 1209.0 L458.4 1205.9 L453.2 1205.9ZM490.7 1211.0 L489.0 1216.0 L483.8 1216.0 L488.0 1219.1 L486.4 1224.1 L490.7 1221.0 L494.9 1224.1 L493.3 1219.1 L497.6 1216.0 L492.3 1216.0ZM529.8 1200.9 L528.2 1205.9 L522.9 1205.9 L527.2 1209.0 L525.5 1214.0 L529.8 1210.9 L534.1 1214.0 L532.4 1209.0 L536.7 1205.9 L531.4 1205.9ZM568.9 1206.7 L567.3 1211.7 L562.0 1211.7 L566.3 1214.8 L564.6 1219.8 L568.9 1216.7 L573.2 1219.8 L571.6 1214.8 L575.8 1211.7 L570.5 1211.7ZM608.0 1202.0 L606.4 1207.0 L601.1 1207.0 L605.4 1210.1 L603.8 1215.1 L608.0 1212.0 L612.3 1215.1 L610.7 1210.1 L614.9 1207.0 L609.7 1207.0ZM647.2 1204.9 L645.5 1209.9 L640.3 1209.9 L644.5 1213.0 L642.9 1218.0 L647.2 1214.9 L651.4 1218.0 L649.8 1213.0 L654.1 1209.9 L648.8 1209.9ZM686.3 1200.9 L684.7 1205.9 L679.4 1205.9 L683.7 1209.0 L682.0 1214.0 L686.3 1210.9 L690.6 1214.0 L688.9 1209.0 L693.2 1205.9 L687.9 1205.9ZM725.4 1202.7 L723.8 1207.7 L718.5 1207.7 L722.8 1210.8 L721.2 1215.8 L725.4 1212.7 L729.7 1215.8 L728.1 1210.8 L732.3 1207.7 L727.1 1207.7ZM764.6 1202.7 L762.9 1207.7 L757.6 1207.7 L761.9 1210.8 L760.3 1215.8 L764.6 1212.7 L768.8 1215.8 L767.2 1210.8 L771.5 1207.7 L766.2 1207.7ZM803.7 1200.9 L802.1 1205.9 L796.8 1205.9 L801.0 1209.0 L799.4 1214.0 L803.7 1210.9 L807.9 1214.0 L806.3 1209.0 L810.6 1205.9 L805.3 1205.9ZM842.8 1203.1 L841.2 1208.1 L835.9 1208.1 L840.2 1211.2 L838.5 1216.2 L842.8 1213.1 L847.1 1216.2 L845.4 1211.2 L849.7 1208.1 L844.4 1208.1ZM881.9 1200.9 L880.3 1205.9 L875.0 1205.9 L879.3 1209.0 L877.7 1214.0 L881.9 1210.9 L886.2 1214.0 L884.6 1209.0 L888.8 1205.9 L883.6 1205.9ZM921.1 1200.9 L919.4 1205.9 L914.2 1205.9 L918.4 1209.0 L916.8 1214.0 L921.1 1210.9 L925.3 1214.0 L923.7 1209.0 L928.0 1205.9 L922.7 1205.9ZM960.2 1201.3 L958.6 1206.3 L953.3 1206.3 L957.6 1209.4 L955.9 1214.4 L960.2 1211.3 L964.5 1214.4 L962.8 1209.4 L967.1 1206.3 L961.8 1206.3ZM999.3 1201.3 L997.7 1206.3 L992.4 1206.3 L996.7 1209.4 L995.1 1214.4 L999.3 1211.3 L1003.6 1214.4 L1002.0 1209.4 L1006.2 1206.3 L1001.0 1206.3ZM1038.4 1200.9 L1036.8 1205.9 L1031.5 1205.9 L1035.8 1209.0 L1034.2 1214.0 L1038.4 1210.9 L1042.7 1214.0 L1041.1 1209.0 L1045.4 1205.9 L1040.1 1205.9ZM1077.6 1201.3 L1075.9 1206.3 L1070.7 1206.3 L1074.9 1209.4 L1073.3 1214.4 L1077.6 1211.3 L1081.8 1214.4 L1080.2 1209.4 L1084.5 1206.3 L1079.2 1206.3ZM1116.7 1200.9 L1115.1 1205.9 L1109.8 1205.9 L1114.1 1209.0 L1112.4 1214.0 L1116.7 1210.9 L1121.0 1214.0 L1119.3 1209.0 L1123.6 1205.9 L1118.3 1205.9ZM1155.8 1200.9 L1154.2 1205.9 L1148.9 1205.9 L1153.2 1209.0 L1151.6 1214.0 L1155.8 1210.9 L1160.1 1214.0 L1158.5 1209.0 L1162.7 1205.9 L1157.5 1205.9ZM1195.0 1202.7 L1193.3 1207.7 L1188.1 1207.7 L1192.3 1210.8 L1190.7 1215.8 L1195.0 1212.7 L1199.2 1215.8 L1197.6 1210.8 L1201.9 1207.7 L1196.6 1207.7ZM1234.1 1208.8 L1232.5 1213.8 L1227.2 1213.8 L1231.4 1216.9 L1229.8 1222.0 L1234.1 1218.9 L1238.4 1222.0 L1236.7 1216.9 L1241.0 1213.8 L1235.7 1213.8ZM1273.2 1213.9 L1271.6 1218.9 L1266.3 1218.9 L1270.6 1222.0 L1268.9 1227.0 L1273.2 1223.9 L1277.5 1227.0 L1275.9 1222.0 L1280.1 1218.9 L1274.8 1218.9ZM1312.3 1208.8 L1310.7 1213.8 L1305.4 1213.8 L1309.7 1216.9 L1308.1 1222.0 L1312.3 1218.9 L1316.6 1222.0 L1315.0 1216.9 L1319.2 1213.8 L1314.0 1213.8ZM1351.5 1211.0 L1349.8 1216.0 L1344.6 1216.0 L1348.8 1219.1 L1347.2 1224.1 L1351.5 1221.0 L1355.7 1224.1 L1354.1 1219.1 L1358.4 1216.0 L1353.1 1216.0ZM1390.6 1203.1 L1389.0 1208.1 L1383.7 1208.1 L1388.0 1211.2 L1386.3 1216.2 L1390.6 1213.1 L1394.9 1216.2 L1393.2 1211.2 L1397.5 1208.1 L1392.2 1208.1ZM1429.7 1209.5 L1428.1 1214.6 L1422.8 1214.6 L1427.1 1217.7 L1425.5 1222.7 L1429.7 1219.6 L1434.0 1222.7 L1432.4 1217.7 L1436.6 1214.6 L1431.4 1214.6ZM1468.9 1207.4 L1467.2 1212.4 L1461.9 1212.4 L1466.2 1215.5 L1464.6 1220.5 L1468.9 1217.4 L1473.1 1220.5 L1471.5 1215.5 L1475.8 1212.4 L1470.5 1212.4ZM1508.0 1203.4 L1506.3 1208.4 L1501.1 1208.4 L1505.3 1211.5 L1503.7 1216.6 L1508.0 1213.4 L1512.2 1216.6 L1510.6 1211.5 L1514.9 1208.4 L1509.6 1208.4ZM1547.1 1208.1 L1545.5 1213.1 L1540.2 1213.1 L1544.5 1216.2 L1542.8 1221.2 L1547.1 1218.1 L1551.4 1221.2 L1549.7 1216.2 L1554.0 1213.1 L1548.7 1213.1ZM1586.2 1202.0 L1584.6 1207.0 L1579.3 1207.0 L1583.6 1210.1 L1582.0 1215.1 L1586.2 1212.0 L1590.5 1215.1 L1588.9 1210.1 L1593.1 1207.0 L1587.9 1207.0ZM1625.4 1203.4 L1623.7 1208.4 L1618.5 1208.4 L1622.7 1211.5 L1621.1 1216.6 L1625.4 1213.4 L1629.6 1216.6 L1628.0 1211.5 L1632.3 1208.4 L1627.0 1208.4ZM1664.5 1204.5 L1662.9 1209.5 L1657.6 1209.5 L1661.9 1212.6 L1660.2 1217.6 L1664.5 1214.5 L1668.8 1217.6 L1667.1 1212.6 L1671.4 1209.5 L1666.1 1209.5ZM1703.6 1205.6 L1702.0 1210.6 L1696.7 1210.6 L1701.0 1213.7 L1699.4 1218.7 L1703.6 1215.6 L1707.9 1218.7 L1706.3 1213.7 L1710.5 1210.6 L1705.2 1210.6ZM1742.7 1204.9 L1741.1 1209.9 L1735.8 1209.9 L1740.1 1213.0 L1738.5 1218.0 L1742.7 1214.9 L1747.0 1218.0 L1745.4 1213.0 L1749.7 1209.9 L1744.4 1209.9ZM1781.9 1201.6 L1780.2 1206.6 L1775.0 1206.6 L1779.2 1209.7 L1777.6 1214.7 L1781.9 1211.6 L1786.1 1214.7 L1784.5 1209.7 L1788.8 1206.6 L1783.5 1206.6ZM1821.0 1201.6 L1819.4 1206.6 L1814.1 1206.6 L1818.4 1209.7 L1816.7 1214.7 L1821.0 1211.6 L1825.3 1214.7 L1823.6 1209.7 L1827.9 1206.6 L1822.6 1206.6ZM1860.1 1205.9 L1858.5 1211.0 L1853.2 1211.0 L1857.5 1214.1 L1855.9 1219.1 L1860.1 1216.0 L1864.4 1219.1 L1862.8 1214.1 L1867.0 1211.0 L1861.8 1211.0ZM1899.3 1209.5 L1897.6 1214.6 L1892.4 1214.6 L1896.6 1217.7 L1895.0 1222.7 L1899.3 1219.6 L1903.5 1222.7 L1901.9 1217.7 L1906.2 1214.6 L1900.9 1214.6ZM1938.4 1208.8 L1936.8 1213.8 L1931.5 1213.8 L1935.7 1216.9 L1934.1 1222.0 L1938.4 1218.9 L1942.7 1222.0 L1941.0 1216.9 L1945.3 1213.8 L1940.0 1213.8ZM1977.5 1209.5 L1975.9 1214.6 L1970.6 1214.6 L1974.9 1217.7 L1973.2 1222.7 L1977.5 1219.6 L1981.8 1222.7 L1980.1 1217.7 L1984.4 1214.6 L1979.1 1214.6ZM2016.6 1202.0 L2015.0 1207.0 L2009.7 1207.0 L2014.0 1210.1 L2012.4 1215.1 L2016.6 1212.0 L2020.9 1215.1 L2019.3 1210.1 L2023.5 1207.0 L2018.3 1207.0ZM2055.8 1200.9 L2054.1 1205.9 L2048.9 1205.9 L2053.1 1209.0 L2051.5 1214.0 L2055.8 1210.9 L2060.0 1214.0 L2058.4 1209.0 L2062.7 1205.9 L2057.4 1205.9ZM2094.9 1201.3 L2093.3 1206.3 L2088.0 1206.3 L2092.3 1209.4 L2090.6 1214.4 L2094.9 1211.3 L2099.2 1214.4 L2097.5 1209.4 L2101.8 1206.3 L2096.5 1206.3ZM2134.0 1203.4 L2132.4 1208.4 L2127.1 1208.4 L2131.4 1211.5 L2129.8 1216.6 L2134.0 1213.4 L2138.3 1216.6 L2136.7 1211.5 L2140.9 1208.4 L2135.7 1208.4ZM2173.2 1201.3 L2171.5 1206.3 L2166.2 1206.3 L2170.5 1209.4 L2168.9 1214.4 L2173.2 1211.3 L2177.4 1214.4 L2175.8 1209.4 L2180.1 1206.3 L2174.8 1206.3Z" fill="#07126d" stroke="#07126d" stroke-width="2.42" stroke-linejoin="bevel"/>
<polyline points="334.1,1208.2 373.3,1329.6 412.4,1248.7 451.5,1208.2 490.7,1491.6 529.8,1329.6 568.9,1451.1 608.0,1248.7 647.2,1532.0 686.3,1289.2 725.4,1289.2 764.6,1208.2 803.7,1208.2 842.8,1248.7 881.9,1208.2 921.1,1248.7 960.2,1248.7 999.3,1248.7 1038.4,1329.6 1077.6,1289.2 1116.7,1208.2 1155.8,1248.7 1195.0,1289.2 1234.1,1613.0 1273.2,1694.0 1312.3,1451.1 1351.5,1613.0 1390.6,1329.6 1429.7,1451.1 1468.9,1774.9 1508.0,1329.6 1547.1,1613.0 1586.2,1329.6 1625.4,1208.2 1664.5,1532.0 1703.6,1370.1 1742.7,1370.1 1781.9,1248.7 1821.0,1289.2 1860.1,1451.1 1899.3,1451.1 1938.4,1410.6 1977.5,1329.6 2016.6,1289.2 2055.8,1208.2 2094.9,1248.7 2134.0,1451.1 2173.2,1329.6" fill="none" stroke="#008000" stroke-width="4.90" stroke-linejoin="round" stroke-linecap="square"/>
<path d="M334.1 1200.9 L332.5 1205.9 L327.2 1205.9 L331.5 1209.0 L329.9 1214.0 L334.1 1210.9 L338.4 1214.0 L336.8 1209.0 L341.1 1205.9 L335.8 1205.9ZM373.3 1322.3 L371.6 1327.3 L366.4 1327.3 L370.6 1330.4 L369.0 1335.4 L373.3 1332.3 L377.5 1335.4 L375.9 1330.4 L380.2 1327.3 L374.9 1327.3ZM412.4 1241.4 L410.8 1246.4 L405.5 1246.4 L409.8 1249.5 L408.1 1254.5 L412.4 1251.4 L416.7 1254.5 L415.0 1249.5 L419.3 1246.4 L414.0 1246.4ZM451.5 1200.9 L449.9 1205.9 L444.6 1205.9 L448.9 1209.0 L447.3 1214.0 L451.5 1210.9 L455.8 1214.0 L454.2 1209.0 L458.4 1205.9 L453.2 1205.9ZM490.7 1484.3 L489.0 1489.3 L483.8 1489.3 L488.0 1492.4 L486.4 1497.4 L490.7 1494.3 L494.9 1497.4 L493.3 1492.4 L497.6 1489.3 L492.3 1489.3ZM529.8 1322.3 L528.2 1327.3 L522.9 1327.3 L527.2 1330.4 L525.5 1335.4 L529.8 1332.3 L534.1 1335.4 L532.4 1330.4 L536.7 1327.3 L531.4 1327.3ZM568.9 1443.8 L567.3 1448.8 L562.0 1448.8 L566.3 1451.9 L564.6 1456.9 L568.9 1453.8 L573.2 1456.9 L571.6 1451.9 L575.8 1448.8 L570.5 1448.8ZM608.0 1241.4 L606.4 1246.4 L601.1 1246.4 L605.4 1249.5 L603.8 1254.5 L608.0 1251.4 L612.3 1254.5 L610.7 1249.5 L614.9 1246.4 L609.7 1246.4ZM647.2 1524.7 L645.5 1529.7 L640.3 1529.7 L644.5 1532.9 L642.9 1537.9 L647.2 1534.8 L651.4 1537.9 L649.8 1532.9 L654.1 1529.7 L648.8 1529.7ZM686.3 1281.9 L684.7 1286.9 L679.4 1286.9 L683.7 1290.0 L682.0 1295.0 L686.3 1291.9 L690.6 1295.0 L688.9 1290.0 L693.2 1286.9 L687.9 1286.9ZM725.4 1281.9 L723.8 1286.9 L718.5 1286.9 L722.8 1290.0 L721.2 1295.0 L725.4 1291.9 L729.7 1295.0 L728.1 1290.0 L732.3 1286.9 L727.1 1286.9ZM764.6 1200.9 L762.9 1205.9 L757.6 1205.9 L761.9 1209.0 L760.3 1214.0 L764.6 1210.9 L768.8 1214.0 L767.2 1209.0 L771.5 1205.9 L766.2 1205.9ZM803.7 1200.9 L802.1 1205.9 L796.8 1205.9 L801.0 1209.0 L799.4 1214.0 L803.7 1210.9 L807.9 1214.0 L806.3 1209.0 L810.6 1205.9 L805.3 1205.9ZM842.8 1241.4 L841.2 1246.4 L835.9 1246.4 L840.2 1249.5 L838.5 1254.5 L842.8 1251.4 L847.1 1254.5 L845.4 1249.5 L849.7 1246.4 L844.4 1246.4ZM881.9 1200.9 L880.3 1205.9 L875.0 1205.9 L879.3 1209.0 L877.7 1214.0 L881.9 1210.9 L886.2 1214.0 L884.6 1209.0 L888.8 1205.9 L883.6 1205.9ZM921.1 1241.4 L919.4 1246.4 L914.2 1246.4 L918.4 1249.5 L916.8 1254.5 L921.1 1251.4 L925.3 1254.5 L923.7 1249.5 L928.0 1246.4 L922.7 1246.4ZM960.2 1241.4 L958.6 1246.4 L953.3 1246.4 L957.6 1249.5 L955.9 1254.5 L960.2 1251.4 L964.5 1254.5 L962.8 1249.5 L967.1 1246.4 L961.8 1246.4ZM999.3 1241.4 L997.7 1246.4 L992.4 1246.4 L996.7 1249.5 L995.1 1254.5 L999.3 1251.4 L1003.6 1254.5 L1002.0 1249.5 L1006.2 1246.4 L1001.0 1246.4ZM1038.4 1322.3 L1036.8 1327.3 L1031.5 1327.3 L1035.8 1330.4 L1034.2 1335.4 L1038.4 1332.3 L1042.7 1335.4 L1041.1 1330.4 L1045.4 1327.3 L1040.1 1327.3ZM1077.6 1281.9 L1075.9 1286.9 L1070.7 1286.9 L1074.9 1290.0 L1073.3 1295.0 L1077.6 1291.9 L1081.8 1295.0 L1080.2 1290.0 L1084.5 1286.9 L1079.2 1286.9ZM1116.7 1200.9 L1115.1 1205.9 L1109.8 1205.9 L1114.1 1209.0 L1112.4 1214.0 L1116.7 1210.9 L1121.0 1214.0 L1119.3 1209.0 L1123.6 1205.9 L1118.3 1205.9ZM1155.8 1241.4 L1154.2 1246.4 L1148.9 1246.4 L1153.2 1249.5 L1151.6 1254.5 L1155.8 1251.4 L1160.1 1254.5 L1158.5 1249.5 L1162.7 1246.4 L1157.5 1246.4ZM1195.0 1281.9 L1193.3 1286.9 L1188.1 1286.9 L1192.3 1290.0 L1190.7 1295.0 L1195.0 1291.9 L1199.2 1295.0 L1197.6 1290.0 L1201.9 1286.9 L1196.6 1286.9ZM1234.1 1605.7 L1232.5 1610.7 L1227.2 1610.7 L1231.4 1613.8 L1229.8 1618.9 L1234.1 1615.8 L1238.4 1618.9 L1236.7 1613.8 L1241.0 1610.7 L1235.7 1610.7ZM1273.2 1686.7 L1271.6 1691.7 L1266.3 1691.7 L1270.6 1694.8 L1268.9 1699.9 L1273.2 1696.8 L1277.5 1699.9 L1275.9 1694.8 L1280.1 1691.7 L1274.8 1691.7ZM1312.3 1443.8 L1310.7 1448.8 L1305.4 1448.8 L1309.7 1451.9 L1308.1 1456.9 L1312.3 1453.8 L1316.6 1456.9 L1315.0 1451.9 L1319.2 1448.8 L1314.0 1448.8ZM1351.5 1605.7 L1349.8 1610.7 L1344.6 1610.7 L1348.8 1613.8 L1347.2 1618.9 L1351.5 1615.8 L1355.7 1618.9 L1354.1 1613.8 L1358.4 1610.7 L1353.1 1610.7ZM1390.6 1322.3 L1389.0 1327.3 L1383.7 1327.3 L1388.0 1330.4 L1386.3 1335.4 L1390.6 1332.3 L1394.9 1335.4 L1393.2 1330.4 L1397.5 1327.3 L1392.2 1327.3ZM1429.7 1443.8 L1428.1 1448.8 L1422.8 1448.8 L1427.1 1451.9 L1425.5 1456.9 L1429.7 1453.8 L1434.0 1456.9 L1432.4 1451.9 L1436.6 1448.8 L1431.4 1448.8ZM1468.9 1767.6 L1467.2 1772.7 L1461.9 1772.7 L1466.2 1775.8 L1464.6 1780.8 L1468.9 1777.7 L1473.1 1780.8 L1471.5 1775.8 L1475.8 1772.7 L1470.5 1772.7ZM1508.0 1322.3 L1506.3 1327.3 L1501.1 1327.3 L1505.3 1330.4 L1503.7 1335.4 L1508.0 1332.3 L1512.2 1335.4 L1510.6 1330.4 L1514.9 1327.3 L1509.6 1327.3ZM1547.1 1605.7 L1545.5 1610.7 L1540.2 1610.7 L1544.5 1613.8 L1542.8 1618.9 L1547.1 1615.8 L1551.4 1618.9 L1549.7 1613.8 L1554.0 1610.7 L1548.7 1610.7ZM1586.2 1322.3 L1584.6 1327.3 L1579.3 1327.3 L1583.6 1330.4 L1582.0 1335.4 L1586.2 1332.3 L1590.5 1335.4 L1588.9 1330.4 L1593.1 1327.3 L1587.9 1327.3ZM1625.4 1200.9 L1623.7 1205.9 L1618.5 1205.9 L1622.7 1209.0 L1621.1 1214.0 L1625.4 1210.9 L1629.6 1214.0 L1628.0 1209.0 L1632.3 1205.9 L1627.0 1205.9ZM1664.5 1524.7 L1662.9 1529.7 L1657.6 1529.7 L1661.9 1532.9 L1660.2 1537.9 L1664.5 1534.8 L1668.8 1537.9 L1667.1 1532.9 L1671.4 1529.7 L1666.1 1529.7ZM1703.6 1362.8 L1702.0 1367.8 L1696.7 1367.8 L1701.0 1370.9 L1699.4 1375.9 L1703.6 1372.8 L1707.9 1375.9 L1706.3 1370.9 L1710.5 1367.8 L1705.2 1367.8ZM1742.7 1362.8 L1741.1 1367.8 L1735.8 1367.8 L1740.1 1370.9 L1738.5 1375.9 L1742.7 1372.8 L1747.0 1375.9 L1745.4 1370.9 L1749.7 1367.8 L1744.4 1367.8ZM1781.9 1241.4 L1780.2 1246.4 L1775.0 1246.4 L1779.2 1249.5 L1777.6 1254.5 L1781.9 1251.4 L1786.1 1254.5 L1784.5 1249.5 L1788.8 1246.4 L1783.5 1246.4ZM1821.0 1281.9 L1819.4 1286.9 L1814.1 1286.9 L1818.4 1290.0 L1816.7 1295.0 L1821.0 1291.9 L1825.3 1295.0 L1823.6 1290.0 L1827.9 1286.9 L1822.6 1286.9ZM1860.1 1443.8 L1858.5 1448.8 L1853.2 1448.8 L1857.5 1451.9 L1855.9 1456.9 L1860.1 1453.8 L1864.4 1456.9 L1862.8 1451.9 L1867.0 1448.8 L1861.8 1448.8ZM1899.3 1443.8 L1897.6 1448.8 L1892.4 1448.8 L1896.6 1451.9 L1895.0 1456.9 L1899.3 1453.8 L1903.5 1456.9 L1901.9 1451.9 L1906.2 1448.8 L1900.9 1448.8ZM1938.4 1403.3 L1936.8 1408.3 L1931.5 1408.3 L1935.7 1411.4 L1934.1 1416.4 L1938.4 1413.3 L1942.7 1416.4 L1941.0 1411.4 L1945.3 1408.3 L1940.0 1408.3ZM1977.5 1322.3 L1975.9 1327.3 L1970.6 1327.3 L1974.9 1330.4 L1973.2 1335.4 L1977.5 1332.3 L1981.8 1335.4 L1980.1 1330.4 L1984.4 1327.3 L1979.1 1327.3ZM2016.6 1281.9 L2015.0 1286.9 L2009.7 1286.9 L2014.0 1290.0 L2012.4 1295.0 L2016.6 1291.9 L2020.9 1295.0 L2019.3 1290.0 L2023.5 1286.9 L2018.3 1286.9ZM2055.8 1200.9 L2054.1 1205.9 L2048.9 1205.9 L2053.1 1209.0 L2051.5 1214.0 L2055.8 1210.9 L2060.0 1214.0 L2058.4 1209.0 L2062.7 1205.9 L2057.4 1205.9ZM2094.9 1241.4 L2093.3 1246.4 L2088.0 1246.4 L2092.3 1249.5 L2090.6 1254.5 L2094.9 1251.4 L2099.2 1254.5 L2097.5 1249.5 L2101.8 1246.4 L2096.5 1246.4ZM2134.0 1443.8 L2132.4 1448.8 L2127.1 1448.8 L2131.4 1451.9 L2129.8 1456.9 L2134.0 1453.8 L2138.3 1456.9 L2136.7 1451.9 L2140.9 1448.8 L2135.7 1448.8ZM2173.2 1322.3 L2171.5 1327.3 L2166.2 1327.3 L2170.5 1330.4 L2168.9 1335.4 L2173.2 1332.3 L2177.4 1335.4 L2175.8 1330.4 L2180.1 1327.3 L2174.8 1327.3Z" fill="#008000" stroke="#008000" stroke-width="2.42" stroke-linejoin="bevel"/>
<polyline points="334.1,1208.2 373.3,1248.7 412.4,1208.2 451.5,1208.2 490.7,1681.4 529.8,1208.2 568.9,1451.1 608.0,1248.7 647.2,1374.5 686.3,1208.2 725.4,1289.2 764.6,1289.2 803.7,1208.2 842.8,1329.6 881.9,1248.7 921.1,1208.2 960.2,1248.7 999.3,1248.7 1038.4,1208.2 1077.6,1248.7 1116.7,1208.2 1155.8,1208.2 1195.0,1289.2 1234.1,1536.8 1273.2,1805.2 1312.3,1567.0 1351.5,1688.7 1390.6,1329.6 1429.7,1604.1 1468.9,1503.5 1508.0,1329.6 1547.1,1534.3 1586.2,1289.2 1625.4,1329.6 1664.5,1373.7 1703.6,1410.6 1742.7,1370.1 1781.9,1248.7 1821.0,1248.7 1860.1,1451.1 1899.3,1604.1 1938.4,1563.3 1977.5,1597.9 2016.6,1248.7 2055.8,1208.2 2094.9,1248.7 2134.0,1329.6 2173.2,1248.7" fill="none" stroke="#800000" stroke-width="4.90" stroke-linejoin="round" stroke-linecap="square"/>
<path d="M334.1 1200.9 L332.5 1205.9 L327.2 1205.9 L331.5 1209.0 L329.9 1214.0 L334.1 1210.9 L338.4 1214.0 L336.8 1209.0 L341.1 1205.9 L335.8 1205.9ZM373.3 1241.4 L371.6 1246.4 L366.4 1246.4 L370.6 1249.5 L369.0 1254.5 L373.3 1251.4 L377.5 1254.5 L375.9 1249.5 L380.2 1246.4 L374.9 1246.4ZM412.4 1200.9 L410.8 1205.9 L405.5 1205.9 L409.8 1209.0 L408.1 1214.0 L412.4 1210.9 L416.7 1214.0 L415.0 1209.0 L419.3 1205.9 L414.0 1205.9ZM451.5 1200.9 L449.9 1205.9 L444.6 1205.9 L448.9 1209.0 L447.3 1214.0 L451.5 1210.9 L455.8 1214.0 L454.2 1209.0 L458.4 1205.9 L453.2 1205.9ZM490.7 1674.2 L489.0 1679.2 L483.8 1679.2 L488.0 1682.3 L486.4 1687.3 L490.7 1684.2 L494.9 1687.3 L493.3 1682.3 L497.6 1679.2 L492.3 1679.2ZM529.8 1200.9 L528.2 1205.9 L522.9 1205.9 L527.2 1209.0 L525.5 1214.0 L529.8 1210.9 L534.1 1214.0 L532.4 1209.0 L536.7 1205.9 L531.4 1205.9ZM568.9 1443.8 L567.3 1448.8 L562.0 1448.8 L566.3 1451.9 L564.6 1456.9 L568.9 1453.8 L573.2 1456.9 L571.6 1451.9 L575.8 1448.8 L570.5 1448.8ZM608.0 1241.4 L606.4 1246.4 L601.1 1246.4 L605.4 1249.5 L603.8 1254.5 L608.0 1251.4 L612.3 1254.5 L610.7 1249.5 L614.9 1246.4 L609.7 1246.4ZM647.2 1367.2 L645.5 1372.2 L640.3 1372.2 L644.5 1375.3 L642.9 1380.3 L647.2 1377.2 L651.4 1380.3 L649.8 1375.3 L654.1 1372.2 L648.8 1372.2ZM686.3 1200.9 L684.7 1205.9 L679.4 1205.9 L683.7 1209.0 L682.0 1214.0 L686.3 1210.9 L690.6 1214.0 L688.9 1209.0 L693.2 1205.9 L687.9 1205.9ZM725.4 1281.9 L723.8 1286.9 L718.5 1286.9 L722.8 1290.0 L721.2 1295.0 L725.4 1291.9 L729.7 1295.0 L728.1 1290.0 L732.3 1286.9 L727.1 1286.9ZM764.6 1281.9 L762.9 1286.9 L757.6 1286.9 L761.9 1290.0 L760.3 1295.0 L764.6 1291.9 L768.8 1295.0 L767.2 1290.0 L771.5 1286.9 L766.2 1286.9ZM803.7 1200.9 L802.1 1205.9 L796.8 1205.9 L801.0 1209.0 L799.4 1214.0 L803.7 1210.9 L807.9 1214.0 L806.3 1209.0 L810.6 1205.9 L805.3 1205.9ZM842.8 1322.3 L841.2 1327.3 L835.9 1327.3 L840.2 1330.4 L838.5 1335.4 L842.8 1332.3 L847.1 1335.4 L845.4 1330.4 L849.7 1327.3 L844.4 1327.3ZM881.9 1241.4 L880.3 1246.4 L875.0 1246.4 L879.3 1249.5 L877.7 1254.5 L881.9 1251.4 L886.2 1254.5 L884.6 1249.5 L888.8 1246.4 L883.6 1246.4ZM921.1 1200.9 L919.4 1205.9 L914.2 1205.9 L918.4 1209.0 L916.8 1214.0 L921.1 1210.9 L925.3 1214.0 L923.7 1209.0 L928.0 1205.9 L922.7 1205.9ZM960.2 1241.4 L958.6 1246.4 L953.3 1246.4 L957.6 1249.5 L955.9 1254.5 L960.2 1251.4 L964.5 1254.5 L962.8 1249.5 L967.1 1246.4 L961.8 1246.4ZM999.3 1241.4 L997.7 1246.4 L992.4 1246.4 L996.7 1249.5 L995.1 1254.5 L999.3 1251.4 L1003.6 1254.5 L1002.0 1249.5 L1006.2 1246.4 L1001.0 1246.4ZM1038.4 1200.9 L1036.8 1205.9 L1031.5 1205.9 L1035.8 1209.0 L1034.2 1214.0 L1038.4 1210.9 L1042.7 1214.0 L1041.1 1209.0 L1045.4 1205.9 L1040.1 1205.9ZM1077.6 1241.4 L1075.9 1246.4 L1070.7 1246.4 L1074.9 1249.5 L1073.3 1254.5 L1077.6 1251.4 L1081.8 1254.5 L1080.2 1249.5 L1084.5 1246.4 L1079.2 1246.4ZM1116.7 1200.9 L1115.1 1205.9 L1109.8 1205.9 L1114.1 1209.0 L1112.4 1214.0 L1116.7 1210.9 L1121.0 1214.0 L1119.3 1209.0 L1123.6 1205.9 L1118.3 1205.9ZM1155.8 1200.9 L1154.2 1205.9 L1148.9 1205.9 L1153.2 1209.0 L1151.6 1214.0 L1155.8 1210.9 L1160.1 1214.0 L1158.5 1209.0 L1162.7 1205.9 L1157.5 1205.9ZM1195.0 1281.9 L1193.3 1286.9 L1188.1 1286.9 L1192.3 1290.0 L1190.7 1295.0 L1195.0 1291.9 L1199.2 1295.0 L1197.6 1290.0 L1201.9 1286.9 L1196.6 1286.9ZM1234.1 1529.6 L1232.5 1534.6 L1227.2 1534.6 L1231.4 1537.7 L1229.8 1542.7 L1234.1 1539.6 L1238.4 1542.7 L1236.7 1537.7 L1241.0 1534.6 L1235.7 1534.6ZM1273.2 1798.0 L1271.6 1803.0 L1266.3 1803.0 L1270.6 1806.1 L1268.9 1811.1 L1273.2 1808.0 L1277.5 1811.1 L1275.9 1806.1 L1280.1 1803.0 L1274.8 1803.0ZM1312.3 1559.8 L1310.7 1564.8 L1305.4 1564.8 L1309.7 1567.9 L1308.1 1572.9 L1312.3 1569.8 L1316.6 1572.9 L1315.0 1567.9 L1319.2 1564.8 L1314.0 1564.8ZM1351.5 1681.4 L1349.8 1686.4 L1344.6 1686.4 L1348.8 1689.5 L1347.2 1694.5 L1351.5 1691.4 L1355.7 1694.5 L1354.1 1689.5 L1358.4 1686.4 L1353.1 1686.4ZM1390.6 1322.3 L1389.0 1327.3 L1383.7 1327.3 L1388.0 1330.4 L1386.3 1335.4 L1390.6 1332.3 L1394.9 1335.4 L1393.2 1330.4 L1397.5 1327.3 L1392.2 1327.3ZM1429.7 1596.8 L1428.1 1601.8 L1422.8 1601.8 L1427.1 1604.9 L1425.5 1609.9 L1429.7 1606.8 L1434.0 1609.9 L1432.4 1604.9 L1436.6 1601.8 L1431.4 1601.8ZM1468.9 1496.2 L1467.2 1501.2 L1461.9 1501.2 L1466.2 1504.3 L1464.6 1509.3 L1468.9 1506.2 L1473.1 1509.3 L1471.5 1504.3 L1475.8 1501.2 L1470.5 1501.2ZM1508.0 1322.3 L1506.3 1327.3 L1501.1 1327.3 L1505.3 1330.4 L1503.7 1335.4 L1508.0 1332.3 L1512.2 1335.4 L1510.6 1330.4 L1514.9 1327.3 L1509.6 1327.3ZM1547.1 1527.0 L1545.5 1532.1 L1540.2 1532.1 L1544.5 1535.2 L1542.8 1540.2 L1547.1 1537.1 L1551.4 1540.2 L1549.7 1535.2 L1554.0 1532.1 L1548.7 1532.1ZM1586.2 1281.9 L1584.6 1286.9 L1579.3 1286.9 L1583.6 1290.0 L1582.0 1295.0 L1586.2 1291.9 L1590.5 1295.0 L1588.9 1290.0 L1593.1 1286.9 L1587.9 1286.9ZM1625.4 1322.3 L1623.7 1327.3 L1618.5 1327.3 L1622.7 1330.4 L1621.1 1335.4 L1625.4 1332.3 L1629.6 1335.4 L1628.0 1330.4 L1632.3 1327.3 L1627.0 1327.3ZM1664.5 1366.5 L1662.9 1371.5 L1657.6 1371.5 L1661.9 1374.6 L1660.2 1379.6 L1664.5 1376.5 L1668.8 1379.6 L1667.1 1374.6 L1671.4 1371.5 L1666.1 1371.5ZM1703.6 1403.3 L1702.0 1408.3 L1696.7 1408.3 L1701.0 1411.4 L1699.4 1416.4 L1703.6 1413.3 L1707.9 1416.4 L1706.3 1411.4 L1710.5 1408.3 L1705.2 1408.3ZM1742.7 1362.8 L1741.1 1367.8 L1735.8 1367.8 L1740.1 1370.9 L1738.5 1375.9 L1742.7 1372.8 L1747.0 1375.9 L1745.4 1370.9 L1749.7 1367.8 L1744.4 1367.8ZM1781.9 1241.4 L1780.2 1246.4 L1775.0 1246.4 L1779.2 1249.5 L1777.6 1254.5 L1781.9 1251.4 L1786.1 1254.5 L1784.5 1249.5 L1788.8 1246.4 L1783.5 1246.4ZM1821.0 1241.4 L1819.4 1246.4 L1814.1 1246.4 L1818.4 1249.5 L1816.7 1254.5 L1821.0 1251.4 L1825.3 1254.5 L1823.6 1249.5 L1827.9 1246.4 L1822.6 1246.4ZM1860.1 1443.8 L1858.5 1448.8 L1853.2 1448.8 L1857.5 1451.9 L1855.9 1456.9 L1860.1 1453.8 L1864.4 1456.9 L1862.8 1451.9 L1867.0 1448.8 L1861.8 1448.8ZM1899.3 1596.8 L1897.6 1601.8 L1892.4 1601.8 L1896.6 1604.9 L1895.0 1609.9 L1899.3 1606.8 L1903.5 1609.9 L1901.9 1604.9 L1906.2 1601.8 L1900.9 1601.8ZM1938.4 1556.1 L1936.8 1561.1 L1931.5 1561.1 L1935.7 1564.2 L1934.1 1569.2 L1938.4 1566.1 L1942.7 1569.2 L1941.0 1564.2 L1945.3 1561.1 L1940.0 1561.1ZM1977.5 1590.6 L1975.9 1595.6 L1970.6 1595.6 L1974.9 1598.7 L1973.2 1603.7 L1977.5 1600.6 L1981.8 1603.7 L1980.1 1598.7 L1984.4 1595.6 L1979.1 1595.6ZM2016.6 1241.4 L2015.0 1246.4 L2009.7 1246.4 L2014.0 1249.5 L2012.4 1254.5 L2016.6 1251.4 L2020.9 1254.5 L2019.3 1249.5 L2023.5 1246.4 L2018.3 1246.4ZM2055.8 1200.9 L2054.1 1205.9 L2048.9 1205.9 L2053.1 1209.0 L2051.5 1214.0 L2055.8 1210.9 L2060.0 1214.0 L2058.4 1209.0 L2062.7 1205.9 L2057.4 1205.9ZM2094.9 1241.4 L2093.3 1246.4 L2088.0 1246.4 L2092.3 1249.5 L2090.6 1254.5 L2094.9 1251.4 L2099.2 1254.5 L2097.5 1249.5 L2101.8 1246.4 L2096.5 1246.4ZM2134.0 1322.3 L2132.4 1327.3 L2127.1 1327.3 L2131.4 1330.4 L2129.8 1335.4 L2134.0 1332.3 L2138.3 1335.4 L2136.7 1330.4 L2140.9 1327.3 L2135.7 1327.3ZM2173.2 1241.4 L2171.5 1246.4 L2166.2 1246.4 L2170.5 1249.5 L2168.9 1254.5 L2173.2 1251.4 L2177.4 1254.5 L2175.8 1249.5 L2180.1 1246.4 L2174.8 1246.4Z" fill="#800000" stroke="#800000" stroke-width="2.42" stroke-linejoin="bevel"/>
<polyline points="334.1,1208.2 373.3,1289.3 412.4,1228.5 451.5,1208.2 490.7,1587.8 529.8,1269.4 568.9,1451.1 608.0,1248.7 647.2,1454.1 686.3,1248.9 725.4,1289.2 764.6,1248.9 803.7,1208.2 842.8,1289.3 881.9,1228.5 921.1,1228.5 960.2,1248.7 999.3,1248.7 1038.4,1269.4 1077.6,1269.0 1116.7,1208.2 1155.8,1228.5 1195.0,1289.2 1234.1,1575.1 1273.2,1750.1 1312.3,1509.5 1351.5,1651.0 1390.6,1329.6 1429.7,1528.4 1468.9,1641.9 1508.0,1329.6 1547.1,1573.9 1586.2,1309.4 1625.4,1269.4 1664.5,1453.8 1703.6,1390.4 1742.7,1370.1 1781.9,1248.7 1821.0,1269.0 1860.1,1451.1 1899.3,1528.4 1938.4,1487.8 1977.5,1466.3 2016.6,1269.0 2055.8,1208.2 2094.9,1248.7 2134.0,1390.8 2173.2,1289.3" fill="none" stroke="#800080" stroke-width="4.90" stroke-linejoin="round" stroke-linecap="square"/>
<path d="M334.1 1200.9 L332.5 1205.9 L327.2 1205.9 L331.5 1209.0 L329.9 1214.0 L334.1 1210.9 L338.4 1214.0 L336.8 1209.0 L341.1 1205.9 L335.8 1205.9ZM373.3 1282.1 L371.6 1287.1 L366.4 1287.1 L370.6 1290.2 L369.0 1295.2 L373.3 1292.1 L377.5 1295.2 L375.9 1290.2 L380.2 1287.1 L374.9 1287.1ZM412.4 1221.2 L410.8 1226.2 L405.5 1226.2 L409.8 1229.3 L408.1 1234.3 L412.4 1231.2 L416.7 1234.3 L415.0 1229.3 L419.3 1226.2 L414.0 1226.2ZM451.5 1200.9 L449.9 1205.9 L444.6 1205.9 L448.9 1209.0 L447.3 1214.0 L451.5 1210.9 L455.8 1214.0 L454.2 1209.0 L458.4 1205.9 L453.2 1205.9ZM490.7 1580.6 L489.0 1585.6 L483.8 1585.6 L488.0 1588.7 L486.4 1593.7 L490.7 1590.6 L494.9 1593.7 L493.3 1588.7 L497.6 1585.6 L492.3 1585.6ZM529.8 1262.1 L528.2 1267.1 L522.9 1267.1 L527.2 1270.2 L525.5 1275.3 L529.8 1272.2 L534.1 1275.3 L532.4 1270.2 L536.7 1267.1 L531.4 1267.1ZM568.9 1443.8 L567.3 1448.8 L562.0 1448.8 L566.3 1451.9 L564.6 1456.9 L568.9 1453.8 L573.2 1456.9 L571.6 1451.9 L575.8 1448.8 L570.5 1448.8ZM608.0 1241.4 L606.4 1246.4 L601.1 1246.4 L605.4 1249.5 L603.8 1254.5 L608.0 1251.4 L612.3 1254.5 L610.7 1249.5 L614.9 1246.4 L609.7 1246.4ZM647.2 1446.9 L645.5 1451.9 L640.3 1451.9 L644.5 1455.0 L642.9 1460.0 L647.2 1456.9 L651.4 1460.0 L649.8 1455.0 L654.1 1451.9 L648.8 1451.9ZM686.3 1241.6 L684.7 1246.6 L679.4 1246.6 L683.7 1249.7 L682.0 1254.8 L686.3 1251.7 L690.6 1254.8 L688.9 1249.7 L693.2 1246.6 L687.9 1246.6ZM725.4 1281.9 L723.8 1286.9 L718.5 1286.9 L722.8 1290.0 L721.2 1295.0 L725.4 1291.9 L729.7 1295.0 L728.1 1290.0 L732.3 1286.9 L727.1 1286.9ZM764.6 1241.6 L762.9 1246.6 L757.6 1246.6 L761.9 1249.7 L760.3 1254.8 L764.6 1251.7 L768.8 1254.8 L767.2 1249.7 L771.5 1246.6 L766.2 1246.6ZM803.7 1200.9 L802.1 1205.9 L796.8 1205.9 L801.0 1209.0 L799.4 1214.0 L803.7 1210.9 L807.9 1214.0 L806.3 1209.0 L810.6 1205.9 L805.3 1205.9ZM842.8 1282.1 L841.2 1287.1 L835.9 1287.1 L840.2 1290.2 L838.5 1295.2 L842.8 1292.1 L847.1 1295.2 L845.4 1290.2 L849.7 1287.1 L844.4 1287.1ZM881.9 1221.2 L880.3 1226.2 L875.0 1226.2 L879.3 1229.3 L877.7 1234.3 L881.9 1231.2 L886.2 1234.3 L884.6 1229.3 L888.8 1226.2 L883.6 1226.2ZM921.1 1221.2 L919.4 1226.2 L914.2 1226.2 L918.4 1229.3 L916.8 1234.3 L921.1 1231.2 L925.3 1234.3 L923.7 1229.3 L928.0 1226.2 L922.7 1226.2ZM960.2 1241.4 L958.6 1246.4 L953.3 1246.4 L957.6 1249.5 L955.9 1254.5 L960.2 1251.4 L964.5 1254.5 L962.8 1249.5 L967.1 1246.4 L961.8 1246.4ZM999.3 1241.4 L997.7 1246.4 L992.4 1246.4 L996.7 1249.5 L995.1 1254.5 L999.3 1251.4 L1003.6 1254.5 L1002.0 1249.5 L1006.2 1246.4 L1001.0 1246.4ZM1038.4 1262.1 L1036.8 1267.1 L1031.5 1267.1 L1035.8 1270.2 L1034.2 1275.3 L1038.4 1272.2 L1042.7 1275.3 L1041.1 1270.2 L1045.4 1267.1 L1040.1 1267.1ZM1077.6 1261.7 L1075.9 1266.7 L1070.7 1266.7 L1074.9 1269.8 L1073.3 1274.8 L1077.6 1271.7 L1081.8 1274.8 L1080.2 1269.8 L1084.5 1266.7 L1079.2 1266.7ZM1116.7 1200.9 L1115.1 1205.9 L1109.8 1205.9 L1114.1 1209.0 L1112.4 1214.0 L1116.7 1210.9 L1121.0 1214.0 L1119.3 1209.0 L1123.6 1205.9 L1118.3 1205.9ZM1155.8 1221.2 L1154.2 1226.2 L1148.9 1226.2 L1153.2 1229.3 L1151.6 1234.3 L1155.8 1231.2 L1160.1 1234.3 L1158.5 1229.3 L1162.7 1226.2 L1157.5 1226.2ZM1195.0 1281.9 L1193.3 1286.9 L1188.1 1286.9 L1192.3 1290.0 L1190.7 1295.0 L1195.0 1291.9 L1199.2 1295.0 L1197.6 1290.0 L1201.9 1286.9 L1196.6 1286.9ZM1234.1 1567.9 L1232.5 1572.9 L1227.2 1572.9 L1231.4 1576.0 L1229.8 1581.0 L1234.1 1577.9 L1238.4 1581.0 L1236.7 1576.0 L1241.0 1572.9 L1235.7 1572.9ZM1273.2 1742.8 L1271.6 1747.8 L1266.3 1747.8 L1270.6 1750.9 L1268.9 1756.0 L1273.2 1752.9 L1277.5 1756.0 L1275.9 1750.9 L1280.1 1747.8 L1274.8 1747.8ZM1312.3 1502.3 L1310.7 1507.3 L1305.4 1507.3 L1309.7 1510.4 L1308.1 1515.4 L1312.3 1512.3 L1316.6 1515.4 L1315.0 1510.4 L1319.2 1507.3 L1314.0 1507.3ZM1351.5 1643.8 L1349.8 1648.8 L1344.6 1648.8 L1348.8 1651.9 L1347.2 1656.9 L1351.5 1653.8 L1355.7 1656.9 L1354.1 1651.9 L1358.4 1648.8 L1353.1 1648.8ZM1390.6 1322.3 L1389.0 1327.3 L1383.7 1327.3 L1388.0 1330.4 L1386.3 1335.4 L1390.6 1332.3 L1394.9 1335.4 L1393.2 1330.4 L1397.5 1327.3 L1392.2 1327.3ZM1429.7 1521.2 L1428.1 1526.2 L1422.8 1526.2 L1427.1 1529.3 L1425.5 1534.3 L1429.7 1531.2 L1434.0 1534.3 L1432.4 1529.3 L1436.6 1526.2 L1431.4 1526.2ZM1468.9 1634.6 L1467.2 1639.7 L1461.9 1639.7 L1466.2 1642.8 L1464.6 1647.8 L1468.9 1644.7 L1473.1 1647.8 L1471.5 1642.8 L1475.8 1639.7 L1470.5 1639.7ZM1508.0 1322.3 L1506.3 1327.3 L1501.1 1327.3 L1505.3 1330.4 L1503.7 1335.4 L1508.0 1332.3 L1512.2 1335.4 L1510.6 1330.4 L1514.9 1327.3 L1509.6 1327.3ZM1547.1 1566.6 L1545.5 1571.6 L1540.2 1571.6 L1544.5 1574.7 L1542.8 1579.7 L1547.1 1576.6 L1551.4 1579.7 L1549.7 1574.7 L1554.0 1571.6 L1548.7 1571.6ZM1586.2 1302.2 L1584.6 1307.2 L1579.3 1307.2 L1583.6 1310.3 L1582.0 1315.3 L1586.2 1312.2 L1590.5 1315.3 L1588.9 1310.3 L1593.1 1307.2 L1587.9 1307.2ZM1625.4 1262.1 L1623.7 1267.1 L1618.5 1267.1 L1622.7 1270.2 L1621.1 1275.3 L1625.4 1272.2 L1629.6 1275.3 L1628.0 1270.2 L1632.3 1267.1 L1627.0 1267.1ZM1664.5 1446.5 L1662.9 1451.5 L1657.6 1451.5 L1661.9 1454.6 L1660.2 1459.6 L1664.5 1456.5 L1668.8 1459.6 L1667.1 1454.6 L1671.4 1451.5 L1666.1 1451.5ZM1703.6 1383.1 L1702.0 1388.1 L1696.7 1388.1 L1701.0 1391.2 L1699.4 1396.3 L1703.6 1393.2 L1707.9 1396.3 L1706.3 1391.2 L1710.5 1388.1 L1705.2 1388.1ZM1742.7 1362.8 L1741.1 1367.8 L1735.8 1367.8 L1740.1 1370.9 L1738.5 1375.9 L1742.7 1372.8 L1747.0 1375.9 L1745.4 1370.9 L1749.7 1367.8 L1744.4 1367.8ZM1781.9 1241.4 L1780.2 1246.4 L1775.0 1246.4 L1779.2 1249.5 L1777.6 1254.5 L1781.9 1251.4 L1786.1 1254.5 L1784.5 1249.5 L1788.8 1246.4 L1783.5 1246.4ZM1821.0 1261.7 L1819.4 1266.7 L1814.1 1266.7 L1818.4 1269.8 L1816.7 1274.8 L1821.0 1271.7 L1825.3 1274.8 L1823.6 1269.8 L1827.9 1266.7 L1822.6 1266.7ZM1860.1 1443.8 L1858.5 1448.8 L1853.2 1448.8 L1857.5 1451.9 L1855.9 1456.9 L1860.1 1453.8 L1864.4 1456.9 L1862.8 1451.9 L1867.0 1448.8 L1861.8 1448.8ZM1899.3 1521.2 L1897.6 1526.2 L1892.4 1526.2 L1896.6 1529.3 L1895.0 1534.3 L1899.3 1531.2 L1903.5 1534.3 L1901.9 1529.3 L1906.2 1526.2 L1900.9 1526.2ZM1938.4 1480.5 L1936.8 1485.6 L1931.5 1485.6 L1935.7 1488.7 L1934.1 1493.7 L1938.4 1490.6 L1942.7 1493.7 L1941.0 1488.7 L1945.3 1485.6 L1940.0 1485.6ZM1977.5 1459.0 L1975.9 1464.1 L1970.6 1464.1 L1974.9 1467.2 L1973.2 1472.2 L1977.5 1469.1 L1981.8 1472.2 L1980.1 1467.2 L1984.4 1464.1 L1979.1 1464.1ZM2016.6 1261.7 L2015.0 1266.7 L2009.7 1266.7 L2014.0 1269.8 L2012.4 1274.8 L2016.6 1271.7 L2020.9 1274.8 L2019.3 1269.8 L2023.5 1266.7 L2018.3 1266.7ZM2055.8 1200.9 L2054.1 1205.9 L2048.9 1205.9 L2053.1 1209.0 L2051.5 1214.0 L2055.8 1210.9 L2060.0 1214.0 L2058.4 1209.0 L2062.7 1205.9 L2057.4 1205.9ZM2094.9 1241.4 L2093.3 1246.4 L2088.0 1246.4 L2092.3 1249.5 L2090.6 1254.5 L2094.9 1251.4 L2099.2 1254.5 L2097.5 1249.5 L2101.8 1246.4 L2096.5 1246.4ZM2134.0 1383.6 L2132.4 1388.6 L2127.1 1388.6 L2131.4 1391.7 L2129.8 1396.7 L2134.0 1393.6 L2138.3 1396.7 L2136.7 1391.7 L2140.9 1388.6 L2135.7 1388.6ZM2173.2 1282.1 L2171.5 1287.1 L2166.2 1287.1 L2170.5 1290.2 L2168.9 1295.2 L2173.2 1292.1 L2177.4 1295.2 L2175.8 1290.2 L2180.1 1287.1 L2174.8 1287.1Z" fill="#800080" stroke="#800080" stroke-width="2.42" stroke-linejoin="bevel"/>
<rect x="242.20" y="1178.30" width="2022.90" height="656.80" fill="none" stroke="#000" stroke-width="1.94"/>
<line x1="334.15" y1="1835.10" x2="334.15" y2="1843.57" stroke="#000" stroke-width="1.94"/>
<text x="334.1" y="1888.6" text-anchor="middle">0</text>
<line x1="725.43" y1="1835.10" x2="725.43" y2="1843.57" stroke="#000" stroke-width="1.94"/>
<text x="725.4" y="1888.6" text-anchor="middle">10</text>
<line x1="1116.70" y1="1835.10" x2="1116.70" y2="1843.57" stroke="#000" stroke-width="1.94"/>
<text x="1116.7" y="1888.6" text-anchor="middle">20</text>
<line x1="1507.98" y1="1835.10" x2="1507.98" y2="1843.57" stroke="#000" stroke-width="1.94"/>
<text x="1508.0" y="1888.6" text-anchor="middle">30</text>
<line x1="1899.26" y1="1835.10" x2="1899.26" y2="1843.57" stroke="#000" stroke-width="1.94"/>
<text x="1899.3" y="1888.6" text-anchor="middle">40</text>
<line x1="233.73" y1="1208.15" x2="242.20" y2="1208.15" stroke="#000" stroke-width="1.94"/>
<text x="225.9" y="1226.0" text-anchor="end">100</text>
<line x1="233.73" y1="1352.27" x2="242.20" y2="1352.27" stroke="#000" stroke-width="1.94"/>
<text x="225.9" y="1370.2" text-anchor="end">98</text>
<line x1="233.73" y1="1496.40" x2="242.20" y2="1496.40" stroke="#000" stroke-width="1.94"/>
<text x="225.9" y="1514.3" text-anchor="end">96</text>
<line x1="233.73" y1="1640.52" x2="242.20" y2="1640.52" stroke="#000" stroke-width="1.94"/>
<text x="225.9" y="1658.4" text-anchor="end">94</text>
<line x1="233.73" y1="1784.64" x2="242.20" y2="1784.64" stroke="#000" stroke-width="1.94"/>
<text x="225.9" y="1802.5" text-anchor="end">92</text>
<text x="1258.1" y="1164.2" text-anchor="middle">Classification Report of Hybrid features model for MIT-BIH database</text>
<text x="1254.6" y="1945.1" text-anchor="middle">Person ID</text>
<text transform="translate(114.2,1506.7) rotate(-90)" text-anchor="middle">Percentage (%)</text>
<rect x="266.3" y="1512.6" width="423.3" height="298.0" rx="9.2" fill="#fff" fill-opacity="0.8" stroke="#ccc" stroke-opacity="0.8" stroke-width="2.42"/>
<line x1="285.7" y1="1551.9" x2="382.5" y2="1551.9" stroke="#07126d" stroke-width="4.90" stroke-linecap="square"/>
<path d="M334.1 1544.6 L332.4 1549.7 L327.2 1549.7 L331.4 1552.8 L329.8 1557.8 L334.1 1554.7 L338.3 1557.8 L336.7 1552.8 L341.0 1549.7 L335.7 1549.7Z" fill="#07126d" stroke="#07126d" stroke-width="2.42" stroke-linejoin="bevel"/>
<text x="420.5" y="1568.8">Specificity</text>
<line x1="285.7" y1="1622.8" x2="382.5" y2="1622.8" stroke="#008000" stroke-width="4.90" stroke-linecap="square"/>
<path d="M334.1 1615.6 L332.4 1620.6 L327.2 1620.6 L331.4 1623.7 L329.8 1628.7 L334.1 1625.6 L338.3 1628.7 L336.7 1623.7 L341.0 1620.6 L335.7 1620.6Z" fill="#008000" stroke="#008000" stroke-width="2.42" stroke-linejoin="bevel"/>
<text x="420.5" y="1639.8">Recall</text>
<line x1="285.7" y1="1693.8" x2="382.5" y2="1693.8" stroke="#800000" stroke-width="4.90" stroke-linecap="square"/>
<path d="M334.1 1686.5 L332.4 1691.5 L327.2 1691.5 L331.4 1694.6 L329.8 1699.6 L334.1 1696.5 L338.3 1699.6 L336.7 1694.6 L341.0 1691.5 L335.7 1691.5Z" fill="#800000" stroke="#800000" stroke-width="2.42" stroke-linejoin="bevel"/>
<text x="420.5" y="1710.7">Precision</text>
<line x1="285.7" y1="1764.7" x2="382.5" y2="1764.7" stroke="#800080" stroke-width="4.90" stroke-linecap="square"/>
<path d="M334.1 1757.4 L332.4 1762.4 L327.2 1762.4 L331.4 1765.5 L329.8 1770.6 L334.1 1767.5 L338.3 1770.6 L336.7 1765.5 L341.0 1762.4 L335.7 1762.4Z" fill="#800080" stroke="#800080" stroke-width="2.42" stroke-linejoin="bevel"/>
<text x="420.5" y="1781.6">F1 score</text>
</g>
<text x="1171.0" y="2071.5" text-anchor="middle" font-family='"Liberation Serif",serif' font-size="86"><tspan>(</tspan><tspan font-weight="bold" font-size="86" dx="-1.5">b</tspan><tspan dx="-1.5">)</tspan></text>
<g id="chart-c">
<polyline points="380.4,2279.7 488.6,2286.1 596.8,2291.5 704.9,2286.1 813.1,2279.7 921.2,2279.7 1029.4,2279.7 1137.6,2279.7 1245.7,2279.7 1353.9,2291.7 1462.0,2279.7 1570.2,2303.8 1678.4,2316.4 1786.5,2297.7 1894.7,2286.0 2002.8,2279.7 2111.0,2286.0 2219.2,2286.0" fill="none" stroke="#07126d" stroke-width="4.90" stroke-linejoin="round" stroke-linecap="square"/>
<path d="M380.4 2272.4 L378.8 2277.4 L373.5 2277.4 L377.8 2280.5 L376.2 2285.5 L380.4 2282.4 L384.7 2285.5 L383.1 2280.5 L387.3 2277.4 L382.1 2277.4ZM488.6 2278.9 L487.0 2283.9 L481.7 2283.9 L486.0 2287.0 L484.3 2292.0 L488.6 2288.9 L492.9 2292.0 L491.2 2287.0 L495.5 2283.9 L490.2 2283.9ZM596.8 2284.3 L595.1 2289.3 L589.9 2289.3 L594.1 2292.4 L592.5 2297.4 L596.8 2294.3 L601.0 2297.4 L599.4 2292.4 L603.7 2289.3 L598.4 2289.3ZM704.9 2278.9 L703.3 2283.9 L698.0 2283.9 L702.3 2287.0 L700.7 2292.0 L704.9 2288.9 L709.2 2292.0 L707.6 2287.0 L711.8 2283.9 L706.5 2283.9ZM813.1 2272.4 L811.4 2277.4 L806.2 2277.4 L810.4 2280.5 L808.8 2285.5 L813.1 2282.4 L817.3 2285.5 L815.7 2280.5 L820.0 2277.4 L814.7 2277.4ZM921.2 2272.4 L919.6 2277.4 L914.3 2277.4 L918.6 2280.5 L917.0 2285.5 L921.2 2282.4 L925.5 2285.5 L923.9 2280.5 L928.1 2277.4 L922.9 2277.4ZM1029.4 2272.4 L1027.8 2277.4 L1022.5 2277.4 L1026.8 2280.5 L1025.1 2285.5 L1029.4 2282.4 L1033.7 2285.5 L1032.0 2280.5 L1036.3 2277.4 L1031.0 2277.4ZM1137.6 2272.4 L1135.9 2277.4 L1130.7 2277.4 L1134.9 2280.5 L1133.3 2285.5 L1137.6 2282.4 L1141.8 2285.5 L1140.2 2280.5 L1144.5 2277.4 L1139.2 2277.4ZM1245.7 2272.4 L1244.1 2277.4 L1238.8 2277.4 L1243.1 2280.5 L1241.5 2285.5 L1245.7 2282.4 L1250.0 2285.5 L1248.4 2280.5 L1252.6 2277.4 L1247.3 2277.4ZM1353.9 2284.5 L1352.3 2289.5 L1347.0 2289.5 L1351.2 2292.6 L1349.6 2297.6 L1353.9 2294.5 L1358.1 2297.6 L1356.5 2292.6 L1360.8 2289.5 L1355.5 2289.5ZM1462.0 2272.4 L1460.4 2277.4 L1455.1 2277.4 L1459.4 2280.5 L1457.8 2285.5 L1462.0 2282.4 L1466.3 2285.5 L1464.7 2280.5 L1468.9 2277.4 L1463.7 2277.4ZM1570.2 2296.5 L1568.6 2301.6 L1563.3 2301.6 L1567.6 2304.7 L1565.9 2309.7 L1570.2 2306.6 L1574.5 2309.7 L1572.8 2304.7 L1577.1 2301.6 L1571.8 2301.6ZM1678.4 2309.1 L1676.7 2314.2 L1671.5 2314.2 L1675.7 2317.3 L1674.1 2322.3 L1678.4 2319.2 L1682.6 2322.3 L1681.0 2317.3 L1685.3 2314.2 L1680.0 2314.2ZM1786.5 2290.4 L1784.9 2295.4 L1779.6 2295.4 L1783.9 2298.5 L1782.3 2303.5 L1786.5 2300.4 L1790.8 2303.5 L1789.2 2298.5 L1793.4 2295.4 L1788.2 2295.4ZM1894.7 2278.7 L1893.1 2283.7 L1887.8 2283.7 L1892.0 2286.8 L1890.4 2291.8 L1894.7 2288.7 L1898.9 2291.8 L1897.3 2286.8 L1901.6 2283.7 L1896.3 2283.7ZM2002.8 2272.4 L2001.2 2277.4 L1995.9 2277.4 L2000.2 2280.5 L1998.6 2285.5 L2002.8 2282.4 L2007.1 2285.5 L2005.5 2280.5 L2009.7 2277.4 L2004.5 2277.4ZM2111.0 2278.7 L2109.4 2283.7 L2104.1 2283.7 L2108.4 2286.8 L2106.7 2291.8 L2111.0 2288.7 L2115.3 2291.8 L2113.6 2286.8 L2117.9 2283.7 L2112.6 2283.7ZM2219.2 2278.7 L2217.5 2283.7 L2212.3 2283.7 L2216.5 2286.8 L2214.9 2291.8 L2219.2 2288.7 L2223.4 2291.8 L2221.8 2286.8 L2226.1 2283.7 L2220.8 2283.7Z" fill="#07126d" stroke="#07126d" stroke-width="2.42" stroke-linejoin="bevel"/>
<polyline points="380.4,2380.9 488.6,2482.1 596.8,2482.1 704.9,2583.2 813.1,2279.7 921.2,2380.9 1029.4,2583.2 1137.6,2279.7 1245.7,2279.7 1353.9,2482.1 1462.0,2279.7 1570.2,2279.7 1678.4,2583.2 1786.5,2482.1 1894.7,2380.9 2002.8,2279.7 2111.0,2380.9 2219.2,2380.9" fill="none" stroke="#008000" stroke-width="4.90" stroke-linejoin="round" stroke-linecap="square"/>
<path d="M380.4 2373.6 L378.8 2378.7 L373.5 2378.7 L377.8 2381.8 L376.2 2386.8 L380.4 2383.7 L384.7 2386.8 L383.1 2381.8 L387.3 2378.7 L382.1 2378.7ZM488.6 2474.9 L487.0 2479.9 L481.7 2479.9 L486.0 2483.0 L484.3 2488.0 L488.6 2484.9 L492.9 2488.0 L491.2 2483.0 L495.5 2479.9 L490.2 2479.9ZM596.8 2474.9 L595.1 2479.9 L589.9 2479.9 L594.1 2483.0 L592.5 2488.0 L596.8 2484.9 L601.0 2488.0 L599.4 2483.0 L603.7 2479.9 L598.4 2479.9ZM704.9 2575.9 L703.3 2581.0 L698.0 2581.0 L702.3 2584.1 L700.7 2589.1 L704.9 2586.0 L709.2 2589.1 L707.6 2584.1 L711.8 2581.0 L706.5 2581.0ZM813.1 2272.4 L811.4 2277.4 L806.2 2277.4 L810.4 2280.5 L808.8 2285.5 L813.1 2282.4 L817.3 2285.5 L815.7 2280.5 L820.0 2277.4 L814.7 2277.4ZM921.2 2373.6 L919.6 2378.7 L914.3 2378.7 L918.6 2381.8 L917.0 2386.8 L921.2 2383.7 L925.5 2386.8 L923.9 2381.8 L928.1 2378.7 L922.9 2378.7ZM1029.4 2575.9 L1027.8 2581.0 L1022.5 2581.0 L1026.8 2584.1 L1025.1 2589.1 L1029.4 2586.0 L1033.7 2589.1 L1032.0 2584.1 L1036.3 2581.0 L1031.0 2581.0ZM1137.6 2272.4 L1135.9 2277.4 L1130.7 2277.4 L1134.9 2280.5 L1133.3 2285.5 L1137.6 2282.4 L1141.8 2285.5 L1140.2 2280.5 L1144.5 2277.4 L1139.2 2277.4ZM1245.7 2272.4 L1244.1 2277.4 L1238.8 2277.4 L1243.1 2280.5 L1241.5 2285.5 L1245.7 2282.4 L1250.0 2285.5 L1248.4 2280.5 L1252.6 2277.4 L1247.3 2277.4ZM1353.9 2474.9 L1352.3 2479.9 L1347.0 2479.9 L1351.2 2483.0 L1349.6 2488.0 L1353.9 2484.9 L1358.1 2488.0 L1356.5 2483.0 L1360.8 2479.9 L1355.5 2479.9ZM1462.0 2272.4 L1460.4 2277.4 L1455.1 2277.4 L1459.4 2280.5 L1457.8 2285.5 L1462.0 2282.4 L1466.3 2285.5 L1464.7 2280.5 L1468.9 2277.4 L1463.7 2277.4ZM1570.2 2272.4 L1568.6 2277.4 L1563.3 2277.4 L1567.6 2280.5 L1565.9 2285.5 L1570.2 2282.4 L1574.5 2285.5 L1572.8 2280.5 L1577.1 2277.4 L1571.8 2277.4ZM1678.4 2575.9 L1676.7 2581.0 L1671.5 2581.0 L1675.7 2584.1 L1674.1 2589.1 L1678.4 2586.0 L1682.6 2589.1 L1681.0 2584.1 L1685.3 2581.0 L1680.0 2581.0ZM1786.5 2474.9 L1784.9 2479.9 L1779.6 2479.9 L1783.9 2483.0 L1782.3 2488.0 L1786.5 2484.9 L1790.8 2488.0 L1789.2 2483.0 L1793.4 2479.9 L1788.2 2479.9ZM1894.7 2373.6 L1893.1 2378.7 L1887.8 2378.7 L1892.0 2381.8 L1890.4 2386.8 L1894.7 2383.7 L1898.9 2386.8 L1897.3 2381.8 L1901.6 2378.7 L1896.3 2378.7ZM2002.8 2272.4 L2001.2 2277.4 L1995.9 2277.4 L2000.2 2280.5 L1998.6 2285.5 L2002.8 2282.4 L2007.1 2285.5 L2005.5 2280.5 L2009.7 2277.4 L2004.5 2277.4ZM2111.0 2373.6 L2109.4 2378.7 L2104.1 2378.7 L2108.4 2381.8 L2106.7 2386.8 L2111.0 2383.7 L2115.3 2386.8 L2113.6 2381.8 L2117.9 2378.7 L2112.6 2378.7ZM2219.2 2373.6 L2217.5 2378.7 L2212.3 2378.7 L2216.5 2381.8 L2214.9 2386.8 L2219.2 2383.7 L2223.4 2386.8 L2221.8 2381.8 L2226.1 2378.7 L2220.8 2378.7Z" fill="#008000" stroke="#008000" stroke-width="2.42" stroke-linejoin="bevel"/>
<polyline points="380.4,2279.7 488.6,2380.9 596.8,2482.1 704.9,2380.9 813.1,2279.7 921.2,2279.7 1029.4,2279.7 1137.6,2279.7 1245.7,2279.7 1353.9,2482.1 1462.0,2279.7 1570.2,2676.0 1678.4,2876.8 1786.5,2583.2 1894.7,2380.9 2002.8,2279.7 2111.0,2380.9 2219.2,2380.9" fill="none" stroke="#800000" stroke-width="4.90" stroke-linejoin="round" stroke-linecap="square"/>
<path d="M380.4 2272.4 L378.8 2277.4 L373.5 2277.4 L377.8 2280.5 L376.2 2285.5 L380.4 2282.4 L384.7 2285.5 L383.1 2280.5 L387.3 2277.4 L382.1 2277.4ZM488.6 2373.6 L487.0 2378.7 L481.7 2378.7 L486.0 2381.8 L484.3 2386.8 L488.6 2383.7 L492.9 2386.8 L491.2 2381.8 L495.5 2378.7 L490.2 2378.7ZM596.8 2474.9 L595.1 2479.9 L589.9 2479.9 L594.1 2483.0 L592.5 2488.0 L596.8 2484.9 L601.0 2488.0 L599.4 2483.0 L603.7 2479.9 L598.4 2479.9ZM704.9 2373.6 L703.3 2378.7 L698.0 2378.7 L702.3 2381.8 L700.7 2386.8 L704.9 2383.7 L709.2 2386.8 L707.6 2381.8 L711.8 2378.7 L706.5 2378.7ZM813.1 2272.4 L811.4 2277.4 L806.2 2277.4 L810.4 2280.5 L808.8 2285.5 L813.1 2282.4 L817.3 2285.5 L815.7 2280.5 L820.0 2277.4 L814.7 2277.4ZM921.2 2272.4 L919.6 2277.4 L914.3 2277.4 L918.6 2280.5 L917.0 2285.5 L921.2 2282.4 L925.5 2285.5 L923.9 2280.5 L928.1 2277.4 L922.9 2277.4ZM1029.4 2272.4 L1027.8 2277.4 L1022.5 2277.4 L1026.8 2280.5 L1025.1 2285.5 L1029.4 2282.4 L1033.7 2285.5 L1032.0 2280.5 L1036.3 2277.4 L1031.0 2277.4ZM1137.6 2272.4 L1135.9 2277.4 L1130.7 2277.4 L1134.9 2280.5 L1133.3 2285.5 L1137.6 2282.4 L1141.8 2285.5 L1140.2 2280.5 L1144.5 2277.4 L1139.2 2277.4ZM1245.7 2272.4 L1244.1 2277.4 L1238.8 2277.4 L1243.1 2280.5 L1241.5 2285.5 L1245.7 2282.4 L1250.0 2285.5 L1248.4 2280.5 L1252.6 2277.4 L1247.3 2277.4ZM1353.9 2474.9 L1352.3 2479.9 L1347.0 2479.9 L1351.2 2483.0 L1349.6 2488.0 L1353.9 2484.9 L1358.1 2488.0 L1356.5 2483.0 L1360.8 2479.9 L1355.5 2479.9ZM1462.0 2272.4 L1460.4 2277.4 L1455.1 2277.4 L1459.4 2280.5 L1457.8 2285.5 L1462.0 2282.4 L1466.3 2285.5 L1464.7 2280.5 L1468.9 2277.4 L1463.7 2277.4ZM1570.2 2668.7 L1568.6 2673.7 L1563.3 2673.7 L1567.6 2676.8 L1565.9 2681.9 L1570.2 2678.8 L1574.5 2681.9 L1572.8 2676.8 L1577.1 2673.7 L1571.8 2673.7ZM1678.4 2869.6 L1676.7 2874.6 L1671.5 2874.6 L1675.7 2877.7 L1674.1 2882.7 L1678.4 2879.6 L1682.6 2882.7 L1681.0 2877.7 L1685.3 2874.6 L1680.0 2874.6ZM1786.5 2575.9 L1784.9 2581.0 L1779.6 2581.0 L1783.9 2584.1 L1782.3 2589.1 L1786.5 2586.0 L1790.8 2589.1 L1789.2 2584.1 L1793.4 2581.0 L1788.2 2581.0ZM1894.7 2373.6 L1893.1 2378.7 L1887.8 2378.7 L1892.0 2381.8 L1890.4 2386.8 L1894.7 2383.7 L1898.9 2386.8 L1897.3 2381.8 L1901.6 2378.7 L1896.3 2378.7ZM2002.8 2272.4 L2001.2 2277.4 L1995.9 2277.4 L2000.2 2280.5 L1998.6 2285.5 L2002.8 2282.4 L2007.1 2285.5 L2005.5 2280.5 L2009.7 2277.4 L2004.5 2277.4ZM2111.0 2373.6 L2109.4 2378.7 L2104.1 2378.7 L2108.4 2381.8 L2106.7 2386.8 L2111.0 2383.7 L2115.3 2386.8 L2113.6 2381.8 L2117.9 2378.7 L2112.6 2378.7ZM2219.2 2373.6 L2217.5 2378.7 L2212.3 2378.7 L2216.5 2381.8 L2214.9 2386.8 L2219.2 2383.7 L2223.4 2386.8 L2221.8 2381.8 L2226.1 2378.7 L2220.8 2378.7Z" fill="#800000" stroke="#800000" stroke-width="2.42" stroke-linejoin="bevel"/>
<polyline points="380.4,2330.4 488.6,2431.7 596.8,2482.1 704.9,2482.6 813.1,2279.7 921.2,2330.4 1029.4,2432.7 1137.6,2279.7 1245.7,2279.7 1353.9,2482.1 1462.0,2279.7 1570.2,2480.0 1678.4,2731.2 1786.5,2532.8 1894.7,2380.9 2002.8,2279.7 2111.0,2380.9 2219.2,2380.9" fill="none" stroke="#800080" stroke-width="4.90" stroke-linejoin="round" stroke-linecap="square"/>
<path d="M380.4 2323.2 L378.8 2328.2 L373.5 2328.2 L377.8 2331.3 L376.2 2336.3 L380.4 2333.2 L384.7 2336.3 L383.1 2331.3 L387.3 2328.2 L382.1 2328.2ZM488.6 2424.4 L487.0 2429.4 L481.7 2429.4 L486.0 2432.5 L484.3 2437.5 L488.6 2434.4 L492.9 2437.5 L491.2 2432.5 L495.5 2429.4 L490.2 2429.4ZM596.8 2474.9 L595.1 2479.9 L589.9 2479.9 L594.1 2483.0 L592.5 2488.0 L596.8 2484.9 L601.0 2488.0 L599.4 2483.0 L603.7 2479.9 L598.4 2479.9ZM704.9 2475.4 L703.3 2480.4 L698.0 2480.4 L702.3 2483.5 L700.7 2488.5 L704.9 2485.4 L709.2 2488.5 L707.6 2483.5 L711.8 2480.4 L706.5 2480.4ZM813.1 2272.4 L811.4 2277.4 L806.2 2277.4 L810.4 2280.5 L808.8 2285.5 L813.1 2282.4 L817.3 2285.5 L815.7 2280.5 L820.0 2277.4 L814.7 2277.4ZM921.2 2323.2 L919.6 2328.2 L914.3 2328.2 L918.6 2331.3 L917.0 2336.3 L921.2 2333.2 L925.5 2336.3 L923.9 2331.3 L928.1 2328.2 L922.9 2328.2ZM1029.4 2425.5 L1027.8 2430.5 L1022.5 2430.5 L1026.8 2433.6 L1025.1 2438.6 L1029.4 2435.5 L1033.7 2438.6 L1032.0 2433.6 L1036.3 2430.5 L1031.0 2430.5ZM1137.6 2272.4 L1135.9 2277.4 L1130.7 2277.4 L1134.9 2280.5 L1133.3 2285.5 L1137.6 2282.4 L1141.8 2285.5 L1140.2 2280.5 L1144.5 2277.4 L1139.2 2277.4ZM1245.7 2272.4 L1244.1 2277.4 L1238.8 2277.4 L1243.1 2280.5 L1241.5 2285.5 L1245.7 2282.4 L1250.0 2285.5 L1248.4 2280.5 L1252.6 2277.4 L1247.3 2277.4ZM1353.9 2474.9 L1352.3 2479.9 L1347.0 2479.9 L1351.2 2483.0 L1349.6 2488.0 L1353.9 2484.9 L1358.1 2488.0 L1356.5 2483.0 L1360.8 2479.9 L1355.5 2479.9ZM1462.0 2272.4 L1460.4 2277.4 L1455.1 2277.4 L1459.4 2280.5 L1457.8 2285.5 L1462.0 2282.4 L1466.3 2285.5 L1464.7 2280.5 L1468.9 2277.4 L1463.7 2277.4ZM1570.2 2472.8 L1568.6 2477.8 L1563.3 2477.8 L1567.6 2480.9 L1565.9 2485.9 L1570.2 2482.8 L1574.5 2485.9 L1572.8 2480.9 L1577.1 2477.8 L1571.8 2477.8ZM1678.4 2724.0 L1676.7 2729.0 L1671.5 2729.0 L1675.7 2732.1 L1674.1 2737.1 L1678.4 2734.0 L1682.6 2737.1 L1681.0 2732.1 L1685.3 2729.0 L1680.0 2729.0ZM1786.5 2525.6 L1784.9 2530.6 L1779.6 2530.6 L1783.9 2533.7 L1782.3 2538.7 L1786.5 2535.6 L1790.8 2538.7 L1789.2 2533.7 L1793.4 2530.6 L1788.2 2530.6ZM1894.7 2373.6 L1893.1 2378.7 L1887.8 2378.7 L1892.0 2381.8 L1890.4 2386.8 L1894.7 2383.7 L1898.9 2386.8 L1897.3 2381.8 L1901.6 2378.7 L1896.3 2378.7ZM2002.8 2272.4 L2001.2 2277.4 L1995.9 2277.4 L2000.2 2280.5 L1998.6 2285.5 L2002.8 2282.4 L2007.1 2285.5 L2005.5 2280.5 L2009.7 2277.4 L2004.5 2277.4ZM2111.0 2373.6 L2109.4 2378.7 L2104.1 2378.7 L2108.4 2381.8 L2106.7 2386.8 L2111.0 2383.7 L2115.3 2386.8 L2113.6 2381.8 L2117.9 2378.7 L2112.6 2378.7ZM2219.2 2373.6 L2217.5 2378.7 L2212.3 2378.7 L2216.5 2381.8 L2214.9 2386.8 L2219.2 2383.7 L2223.4 2386.8 L2221.8 2381.8 L2226.1 2378.7 L2220.8 2378.7Z" fill="#800080" stroke="#800080" stroke-width="2.42" stroke-linejoin="bevel"/>
<rect x="288.50" y="2249.80" width="2022.60" height="656.90" fill="none" stroke="#000" stroke-width="1.94"/>
<line x1="380.44" y1="2906.70" x2="380.44" y2="2915.17" stroke="#000" stroke-width="1.94"/>
<text x="380.4" y="2960.2" text-anchor="middle">0.0</text>
<line x1="650.84" y1="2906.70" x2="650.84" y2="2915.17" stroke="#000" stroke-width="1.94"/>
<text x="650.8" y="2960.2" text-anchor="middle">2.5</text>
<line x1="921.24" y1="2906.70" x2="921.24" y2="2915.17" stroke="#000" stroke-width="1.94"/>
<text x="921.2" y="2960.2" text-anchor="middle">5.0</text>
<line x1="1191.64" y1="2906.70" x2="1191.64" y2="2915.17" stroke="#000" stroke-width="1.94"/>
<text x="1191.6" y="2960.2" text-anchor="middle">7.5</text>
<line x1="1462.04" y1="2906.70" x2="1462.04" y2="2915.17" stroke="#000" stroke-width="1.94"/>
<text x="1462.0" y="2960.2" text-anchor="middle">10.0</text>
<line x1="1732.44" y1="2906.70" x2="1732.44" y2="2915.17" stroke="#000" stroke-width="1.94"/>
<text x="1732.4" y="2960.2" text-anchor="middle">12.5</text>
<line x1="2002.84" y1="2906.70" x2="2002.84" y2="2915.17" stroke="#000" stroke-width="1.94"/>
<text x="2002.8" y="2960.2" text-anchor="middle">15.0</text>
<line x1="2273.24" y1="2906.70" x2="2273.24" y2="2915.17" stroke="#000" stroke-width="1.94"/>
<text x="2273.2" y="2960.2" text-anchor="middle">17.5</text>
<line x1="280.03" y1="2279.66" x2="288.50" y2="2279.66" stroke="#000" stroke-width="1.94"/>
<text x="272.2" y="2297.6" text-anchor="end">100.0</text>
<line x1="280.03" y1="2369.73" x2="288.50" y2="2369.73" stroke="#000" stroke-width="1.94"/>
<text x="272.2" y="2387.6" text-anchor="end">99.5</text>
<line x1="280.03" y1="2459.80" x2="288.50" y2="2459.80" stroke="#000" stroke-width="1.94"/>
<text x="272.2" y="2477.7" text-anchor="end">99.0</text>
<line x1="280.03" y1="2549.88" x2="288.50" y2="2549.88" stroke="#000" stroke-width="1.94"/>
<text x="272.2" y="2567.8" text-anchor="end">98.5</text>
<line x1="280.03" y1="2639.95" x2="288.50" y2="2639.95" stroke="#000" stroke-width="1.94"/>
<text x="272.2" y="2657.8" text-anchor="end">98.0</text>
<line x1="280.03" y1="2730.02" x2="288.50" y2="2730.02" stroke="#000" stroke-width="1.94"/>
<text x="272.2" y="2747.9" text-anchor="end">97.5</text>
<line x1="280.03" y1="2820.10" x2="288.50" y2="2820.10" stroke="#000" stroke-width="1.94"/>
<text x="272.2" y="2838.0" text-anchor="end">97.0</text>
<text x="1301.0" y="2235.2" text-anchor="middle">Classification Report of Hybrid features model for NSRDB database</text>
<text x="1300.8" y="3016.7" text-anchor="middle">Person ID</text>
<text transform="translate(114.7,2578.2) rotate(-90)" text-anchor="middle">Percentage (%)</text>
<rect x="312.9" y="2584.1" width="423.3" height="298.0" rx="9.2" fill="#fff" fill-opacity="0.8" stroke="#ccc" stroke-opacity="0.8" stroke-width="2.42"/>
<line x1="332.3" y1="2623.4" x2="429.1" y2="2623.4" stroke="#07126d" stroke-width="4.90" stroke-linecap="square"/>
<path d="M380.7 2616.1 L379.0 2621.2 L373.8 2621.2 L378.0 2624.3 L376.4 2629.3 L380.7 2626.2 L384.9 2629.3 L383.3 2624.3 L387.6 2621.2 L382.3 2621.2Z" fill="#07126d" stroke="#07126d" stroke-width="2.42" stroke-linejoin="bevel"/>
<text x="467.1" y="2640.3">Specificity</text>
<line x1="332.3" y1="2694.3" x2="429.1" y2="2694.3" stroke="#008000" stroke-width="4.90" stroke-linecap="square"/>
<path d="M380.7 2687.1 L379.0 2692.1 L373.8 2692.1 L378.0 2695.2 L376.4 2700.2 L380.7 2697.1 L384.9 2700.2 L383.3 2695.2 L387.6 2692.1 L382.3 2692.1Z" fill="#008000" stroke="#008000" stroke-width="2.42" stroke-linejoin="bevel"/>
<text x="467.1" y="2711.3">Recall</text>
<line x1="332.3" y1="2765.3" x2="429.1" y2="2765.3" stroke="#800000" stroke-width="4.90" stroke-linecap="square"/>
<path d="M380.7 2758.0 L379.0 2763.0 L373.8 2763.0 L378.0 2766.1 L376.4 2771.1 L380.7 2768.0 L384.9 2771.1 L383.3 2766.1 L387.6 2763.0 L382.3 2763.0Z" fill="#800000" stroke="#800000" stroke-width="2.42" stroke-linejoin="bevel"/>
<text x="467.1" y="2782.2">Precision</text>
<line x1="332.3" y1="2836.2" x2="429.1" y2="2836.2" stroke="#800080" stroke-width="4.90" stroke-linecap="square"/>
<path d="M380.7 2828.9 L379.0 2833.9 L373.8 2833.9 L378.0 2837.0 L376.4 2842.1 L380.7 2839.0 L384.9 2842.1 L383.3 2837.0 L387.6 2833.9 L382.3 2833.9Z" fill="#800080" stroke="#800080" stroke-width="2.42" stroke-linejoin="bevel"/>
<text x="467.1" y="2853.1">F1 score</text>
</g>
<text x="1202.0" y="3143.0" text-anchor="middle" font-family='"Liberation Serif",serif' font-size="86"><tspan>(</tspan><tspan font-weight="bold" font-size="81" dx="-1.5">c</tspan><tspan dx="-1.5">)</tspan></text>
</svg>
</body></html>
